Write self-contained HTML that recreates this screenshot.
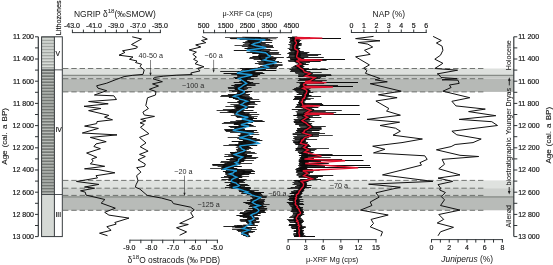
<!DOCTYPE html>
<html><head><meta charset="utf-8"><title>Figure</title>
<style>
html,body{margin:0;padding:0;background:#fff;}
svg{display:block;}
svg text{font-family:"Liberation Sans", Arial, Helvetica, sans-serif;fill:#161616;stroke:#161616;stroke-width:0.18px;}
</style></head><body>
<svg width="553" height="265" viewBox="0 0 553 265">
<rect width="553" height="265" fill="#fff"/>
<rect x="62.50" y="68.50" width="451.10" height="6.60" fill="#dde0dd"/>
<rect x="62.50" y="75.30" width="451.10" height="3.40" fill="#c6c9c6"/>
<rect x="62.50" y="78.70" width="451.10" height="13.20" fill="#b6b9b6"/>
<line x1="62.50" y1="75.30" x2="513.60" y2="75.30" stroke="#5a5e5a" stroke-width="0.8"/>
<rect x="62.50" y="180.40" width="451.10" height="7.80" fill="#dfe2df"/>
<rect x="62.50" y="188.20" width="451.10" height="8.50" fill="#cdd0cd"/>
<rect x="62.50" y="196.70" width="451.10" height="13.60" fill="#b8bbb8"/>
<line x1="62.50" y1="196.90" x2="513.60" y2="196.90" stroke="#6a6e6a" stroke-width="0.9"/>
<line x1="63.00" y1="68.50" x2="486.00" y2="68.50" stroke="#5c605c" stroke-width="0.85" stroke-dasharray="5.4 2.9"/>
<line x1="63.00" y1="78.70" x2="486.00" y2="78.70" stroke="#5c605c" stroke-width="0.85" stroke-dasharray="5.4 2.9"/>
<line x1="63.00" y1="91.90" x2="486.00" y2="91.90" stroke="#5c605c" stroke-width="0.85" stroke-dasharray="5.4 2.9"/>
<line x1="63.00" y1="180.40" x2="486.00" y2="180.40" stroke="#5c605c" stroke-width="0.85" stroke-dasharray="5.4 2.9"/>
<line x1="63.00" y1="188.20" x2="486.00" y2="188.20" stroke="#5c605c" stroke-width="0.85" stroke-dasharray="5.4 2.9"/>
<line x1="63.00" y1="195.40" x2="486.00" y2="195.40" stroke="#5c605c" stroke-width="0.85" stroke-dasharray="5.4 2.9"/>
<line x1="63.00" y1="210.30" x2="486.00" y2="210.30" stroke="#5c605c" stroke-width="0.85" stroke-dasharray="5.4 2.9"/>
<rect x="41.60" y="36.80" width="12.80" height="33.05" fill="#a3a7a3"/>
<rect x="41.60" y="69.85" width="12.80" height="124.65" fill="#747874"/>
<rect x="41.60" y="194.50" width="12.80" height="42.10" fill="#d5d9d5"/>
<rect x="54.40" y="36.80" width="7.90" height="199.80" fill="#ffffff"/>
<rect x="41.60" y="38.20" width="12.80" height="1.40" fill="#dde1dd"/>
<rect x="41.60" y="41.24" width="12.80" height="1.40" fill="#dde1dd"/>
<rect x="41.60" y="44.28" width="12.80" height="1.40" fill="#dde1dd"/>
<rect x="41.60" y="47.32" width="12.80" height="1.40" fill="#dde1dd"/>
<rect x="41.60" y="50.36" width="12.80" height="1.40" fill="#dde1dd"/>
<rect x="41.60" y="53.40" width="12.80" height="1.40" fill="#dde1dd"/>
<rect x="41.60" y="56.44" width="12.80" height="1.40" fill="#dde1dd"/>
<rect x="41.60" y="59.48" width="12.80" height="1.40" fill="#dde1dd"/>
<rect x="41.60" y="62.52" width="12.80" height="1.40" fill="#dde1dd"/>
<rect x="41.60" y="65.56" width="12.80" height="1.40" fill="#dde1dd"/>
<rect x="41.60" y="68.60" width="12.80" height="1.25" fill="#dde1dd"/>
<rect x="41.60" y="70.90" width="12.80" height="1.40" fill="#b7bbb7"/>
<rect x="41.60" y="73.94" width="12.80" height="1.40" fill="#b7bbb7"/>
<rect x="41.60" y="76.98" width="12.80" height="1.40" fill="#b7bbb7"/>
<rect x="41.60" y="80.02" width="12.80" height="1.40" fill="#b7bbb7"/>
<rect x="41.60" y="83.06" width="12.80" height="1.40" fill="#b7bbb7"/>
<rect x="41.60" y="86.10" width="12.80" height="1.40" fill="#b7bbb7"/>
<rect x="41.60" y="89.14" width="12.80" height="1.40" fill="#b7bbb7"/>
<rect x="41.60" y="92.18" width="12.80" height="1.40" fill="#b7bbb7"/>
<rect x="41.60" y="95.22" width="12.80" height="1.40" fill="#b7bbb7"/>
<rect x="41.60" y="98.26" width="12.80" height="1.40" fill="#b7bbb7"/>
<rect x="41.60" y="101.30" width="12.80" height="1.40" fill="#b7bbb7"/>
<rect x="41.60" y="104.34" width="12.80" height="1.40" fill="#b7bbb7"/>
<rect x="41.60" y="107.38" width="12.80" height="1.40" fill="#b7bbb7"/>
<rect x="41.60" y="110.42" width="12.80" height="1.40" fill="#b7bbb7"/>
<rect x="41.60" y="113.46" width="12.80" height="1.40" fill="#b7bbb7"/>
<rect x="41.60" y="116.50" width="12.80" height="1.40" fill="#b7bbb7"/>
<rect x="41.60" y="119.54" width="12.80" height="1.40" fill="#b7bbb7"/>
<rect x="41.60" y="122.58" width="12.80" height="1.40" fill="#b7bbb7"/>
<rect x="41.60" y="125.62" width="12.80" height="1.40" fill="#b7bbb7"/>
<rect x="41.60" y="128.66" width="12.80" height="1.40" fill="#b7bbb7"/>
<rect x="41.60" y="131.70" width="12.80" height="1.40" fill="#b7bbb7"/>
<rect x="41.60" y="134.74" width="12.80" height="1.40" fill="#b7bbb7"/>
<rect x="41.60" y="137.78" width="12.80" height="1.40" fill="#b7bbb7"/>
<rect x="41.60" y="140.82" width="12.80" height="1.40" fill="#b7bbb7"/>
<rect x="41.60" y="143.86" width="12.80" height="1.40" fill="#b7bbb7"/>
<rect x="41.60" y="146.90" width="12.80" height="1.40" fill="#b7bbb7"/>
<rect x="41.60" y="149.94" width="12.80" height="1.40" fill="#b7bbb7"/>
<rect x="41.60" y="152.98" width="12.80" height="1.40" fill="#b7bbb7"/>
<rect x="41.60" y="156.02" width="12.80" height="1.40" fill="#b7bbb7"/>
<rect x="41.60" y="159.06" width="12.80" height="1.40" fill="#b7bbb7"/>
<rect x="41.60" y="162.10" width="12.80" height="1.40" fill="#b7bbb7"/>
<rect x="41.60" y="165.14" width="12.80" height="1.40" fill="#b7bbb7"/>
<rect x="41.60" y="168.18" width="12.80" height="1.40" fill="#b7bbb7"/>
<rect x="41.60" y="171.22" width="12.80" height="1.40" fill="#b7bbb7"/>
<rect x="41.60" y="174.26" width="12.80" height="1.40" fill="#b7bbb7"/>
<rect x="41.60" y="177.30" width="12.80" height="1.40" fill="#b7bbb7"/>
<rect x="41.60" y="180.34" width="12.80" height="1.40" fill="#b7bbb7"/>
<rect x="41.60" y="183.38" width="12.80" height="1.40" fill="#b7bbb7"/>
<rect x="41.60" y="186.42" width="12.80" height="1.40" fill="#b7bbb7"/>
<rect x="41.60" y="189.46" width="12.80" height="1.40" fill="#b7bbb7"/>
<rect x="41.60" y="192.50" width="12.80" height="1.40" fill="#b7bbb7"/>
<rect x="41.6" y="36.80" width="20.70" height="199.80" fill="none" stroke="#2e3336" stroke-width="0.95"/>
<line x1="54.40" y1="36.80" x2="54.40" y2="236.60" stroke="#2e3336" stroke-width="0.95"/>
<line x1="41.60" y1="69.85" x2="62.30" y2="69.85" stroke="#2e3336" stroke-width="0.85"/>
<line x1="41.60" y1="194.50" x2="62.30" y2="194.50" stroke="#2e3336" stroke-width="0.85"/>
<line x1="38.30" y1="36.80" x2="38.30" y2="236.60" stroke="#2e3336" stroke-width="1.15"/>
<line x1="513.80" y1="36.80" x2="513.80" y2="236.60" stroke="#2e3336" stroke-width="1.15"/>
<line x1="35.00" y1="36.80" x2="38.30" y2="36.80" stroke="#2e3336" stroke-width="1.0"/>
<line x1="513.80" y1="36.80" x2="517.30" y2="36.80" stroke="#2e3336" stroke-width="1.0"/>
<text x="34.00" y="39.20" font-size="7.0" text-anchor="end" >11 200</text>
<text x="518.20" y="39.20" font-size="7.0" text-anchor="start" >11 200</text>
<line x1="35.00" y1="47.90" x2="38.30" y2="47.90" stroke="#2e3336" stroke-width="1.0"/>
<line x1="513.80" y1="47.90" x2="517.30" y2="47.90" stroke="#2e3336" stroke-width="1.0"/>
<line x1="35.00" y1="59.00" x2="38.30" y2="59.00" stroke="#2e3336" stroke-width="1.0"/>
<line x1="513.80" y1="59.00" x2="517.30" y2="59.00" stroke="#2e3336" stroke-width="1.0"/>
<text x="34.00" y="61.40" font-size="7.0" text-anchor="end" >11 400</text>
<text x="518.20" y="61.40" font-size="7.0" text-anchor="start" >11 400</text>
<line x1="35.00" y1="70.10" x2="38.30" y2="70.10" stroke="#2e3336" stroke-width="1.0"/>
<line x1="513.80" y1="70.10" x2="517.30" y2="70.10" stroke="#2e3336" stroke-width="1.0"/>
<line x1="35.00" y1="81.20" x2="38.30" y2="81.20" stroke="#2e3336" stroke-width="1.0"/>
<line x1="513.80" y1="81.20" x2="517.30" y2="81.20" stroke="#2e3336" stroke-width="1.0"/>
<text x="34.00" y="83.60" font-size="7.0" text-anchor="end" >11 600</text>
<text x="518.20" y="83.60" font-size="7.0" text-anchor="start" >11 600</text>
<line x1="35.00" y1="92.30" x2="38.30" y2="92.30" stroke="#2e3336" stroke-width="1.0"/>
<line x1="513.80" y1="92.30" x2="517.30" y2="92.30" stroke="#2e3336" stroke-width="1.0"/>
<line x1="35.00" y1="103.40" x2="38.30" y2="103.40" stroke="#2e3336" stroke-width="1.0"/>
<line x1="513.80" y1="103.40" x2="517.30" y2="103.40" stroke="#2e3336" stroke-width="1.0"/>
<text x="34.00" y="105.80" font-size="7.0" text-anchor="end" >11 800</text>
<text x="518.20" y="105.80" font-size="7.0" text-anchor="start" >11 800</text>
<line x1="35.00" y1="114.50" x2="38.30" y2="114.50" stroke="#2e3336" stroke-width="1.0"/>
<line x1="513.80" y1="114.50" x2="517.30" y2="114.50" stroke="#2e3336" stroke-width="1.0"/>
<line x1="35.00" y1="125.60" x2="38.30" y2="125.60" stroke="#2e3336" stroke-width="1.0"/>
<line x1="513.80" y1="125.60" x2="517.30" y2="125.60" stroke="#2e3336" stroke-width="1.0"/>
<text x="34.00" y="128.00" font-size="7.0" text-anchor="end" >12 000</text>
<text x="518.20" y="128.00" font-size="7.0" text-anchor="start" >12 000</text>
<line x1="35.00" y1="136.70" x2="38.30" y2="136.70" stroke="#2e3336" stroke-width="1.0"/>
<line x1="513.80" y1="136.70" x2="517.30" y2="136.70" stroke="#2e3336" stroke-width="1.0"/>
<line x1="35.00" y1="147.80" x2="38.30" y2="147.80" stroke="#2e3336" stroke-width="1.0"/>
<line x1="513.80" y1="147.80" x2="517.30" y2="147.80" stroke="#2e3336" stroke-width="1.0"/>
<text x="34.00" y="150.20" font-size="7.0" text-anchor="end" >12 200</text>
<text x="518.20" y="150.20" font-size="7.0" text-anchor="start" >12 200</text>
<line x1="35.00" y1="158.90" x2="38.30" y2="158.90" stroke="#2e3336" stroke-width="1.0"/>
<line x1="513.80" y1="158.90" x2="517.30" y2="158.90" stroke="#2e3336" stroke-width="1.0"/>
<line x1="35.00" y1="170.00" x2="38.30" y2="170.00" stroke="#2e3336" stroke-width="1.0"/>
<line x1="513.80" y1="170.00" x2="517.30" y2="170.00" stroke="#2e3336" stroke-width="1.0"/>
<text x="34.00" y="172.40" font-size="7.0" text-anchor="end" >12 400</text>
<text x="518.20" y="172.40" font-size="7.0" text-anchor="start" >12 400</text>
<line x1="35.00" y1="181.10" x2="38.30" y2="181.10" stroke="#2e3336" stroke-width="1.0"/>
<line x1="513.80" y1="181.10" x2="517.30" y2="181.10" stroke="#2e3336" stroke-width="1.0"/>
<line x1="35.00" y1="192.20" x2="38.30" y2="192.20" stroke="#2e3336" stroke-width="1.0"/>
<line x1="513.80" y1="192.20" x2="517.30" y2="192.20" stroke="#2e3336" stroke-width="1.0"/>
<text x="34.00" y="194.60" font-size="7.0" text-anchor="end" >12 600</text>
<text x="518.20" y="194.60" font-size="7.0" text-anchor="start" >12 600</text>
<line x1="35.00" y1="203.30" x2="38.30" y2="203.30" stroke="#2e3336" stroke-width="1.0"/>
<line x1="513.80" y1="203.30" x2="517.30" y2="203.30" stroke="#2e3336" stroke-width="1.0"/>
<line x1="35.00" y1="214.40" x2="38.30" y2="214.40" stroke="#2e3336" stroke-width="1.0"/>
<line x1="513.80" y1="214.40" x2="517.30" y2="214.40" stroke="#2e3336" stroke-width="1.0"/>
<text x="34.00" y="216.80" font-size="7.0" text-anchor="end" >12 800</text>
<text x="518.20" y="216.80" font-size="7.0" text-anchor="start" >12 800</text>
<line x1="35.00" y1="225.50" x2="38.30" y2="225.50" stroke="#2e3336" stroke-width="1.0"/>
<line x1="513.80" y1="225.50" x2="517.30" y2="225.50" stroke="#2e3336" stroke-width="1.0"/>
<line x1="35.00" y1="236.60" x2="38.30" y2="236.60" stroke="#2e3336" stroke-width="1.0"/>
<line x1="513.80" y1="236.60" x2="517.30" y2="236.60" stroke="#2e3336" stroke-width="1.0"/>
<text x="34.00" y="239.00" font-size="7.0" text-anchor="end" >13 000</text>
<text x="518.20" y="239.00" font-size="7.0" text-anchor="start" >13 000</text>
<line x1="72.00" y1="32.60" x2="160.80" y2="32.60" stroke="#2e3336" stroke-width="0.95"/>
<line x1="72.40" y1="29.60" x2="72.40" y2="33.05" stroke="#2e3336" stroke-width="1.0"/>
<line x1="83.40" y1="29.60" x2="83.40" y2="33.05" stroke="#2e3336" stroke-width="1.0"/>
<line x1="94.40" y1="29.60" x2="94.40" y2="33.05" stroke="#2e3336" stroke-width="1.0"/>
<line x1="105.40" y1="29.60" x2="105.40" y2="33.05" stroke="#2e3336" stroke-width="1.0"/>
<line x1="116.40" y1="29.60" x2="116.40" y2="33.05" stroke="#2e3336" stroke-width="1.0"/>
<line x1="127.40" y1="29.60" x2="127.40" y2="33.05" stroke="#2e3336" stroke-width="1.0"/>
<line x1="138.40" y1="29.60" x2="138.40" y2="33.05" stroke="#2e3336" stroke-width="1.0"/>
<line x1="149.40" y1="29.60" x2="149.40" y2="33.05" stroke="#2e3336" stroke-width="1.0"/>
<line x1="160.40" y1="29.60" x2="160.40" y2="33.05" stroke="#2e3336" stroke-width="1.0"/>
<text x="71.90" y="27.70" font-size="7.0" text-anchor="middle" >-43.0</text>
<text x="93.90" y="27.70" font-size="7.0" text-anchor="middle" >-41.0</text>
<text x="115.90" y="27.70" font-size="7.0" text-anchor="middle" >-39.0</text>
<text x="137.90" y="27.70" font-size="7.0" text-anchor="middle" >-37.0</text>
<text x="159.90" y="27.70" font-size="7.0" text-anchor="middle" >-35.0</text>
<line x1="203.20" y1="32.70" x2="291.70" y2="32.70" stroke="#2e3336" stroke-width="0.95"/>
<line x1="203.60" y1="29.70" x2="203.60" y2="33.15" stroke="#2e3336" stroke-width="1.0"/>
<line x1="214.56" y1="29.70" x2="214.56" y2="33.15" stroke="#2e3336" stroke-width="1.0"/>
<line x1="225.53" y1="29.70" x2="225.53" y2="33.15" stroke="#2e3336" stroke-width="1.0"/>
<line x1="236.49" y1="29.70" x2="236.49" y2="33.15" stroke="#2e3336" stroke-width="1.0"/>
<line x1="247.45" y1="29.70" x2="247.45" y2="33.15" stroke="#2e3336" stroke-width="1.0"/>
<line x1="258.41" y1="29.70" x2="258.41" y2="33.15" stroke="#2e3336" stroke-width="1.0"/>
<line x1="269.38" y1="29.70" x2="269.38" y2="33.15" stroke="#2e3336" stroke-width="1.0"/>
<line x1="280.34" y1="29.70" x2="280.34" y2="33.15" stroke="#2e3336" stroke-width="1.0"/>
<line x1="291.30" y1="29.70" x2="291.30" y2="33.15" stroke="#2e3336" stroke-width="1.0"/>
<text x="203.60" y="27.70" font-size="7.0" text-anchor="middle" >500</text>
<text x="225.53" y="27.70" font-size="7.0" text-anchor="middle" >1500</text>
<text x="247.45" y="27.70" font-size="7.0" text-anchor="middle" >2500</text>
<text x="269.38" y="27.70" font-size="7.0" text-anchor="middle" >3500</text>
<text x="291.30" y="27.70" font-size="7.0" text-anchor="middle" >4500</text>
<line x1="351.00" y1="32.50" x2="426.60" y2="32.50" stroke="#2e3336" stroke-width="0.95"/>
<line x1="351.40" y1="29.50" x2="351.40" y2="32.95" stroke="#2e3336" stroke-width="1.0"/>
<line x1="363.87" y1="29.50" x2="363.87" y2="32.95" stroke="#2e3336" stroke-width="1.0"/>
<line x1="376.33" y1="29.50" x2="376.33" y2="32.95" stroke="#2e3336" stroke-width="1.0"/>
<line x1="388.80" y1="29.50" x2="388.80" y2="32.95" stroke="#2e3336" stroke-width="1.0"/>
<line x1="401.27" y1="29.50" x2="401.27" y2="32.95" stroke="#2e3336" stroke-width="1.0"/>
<line x1="413.73" y1="29.50" x2="413.73" y2="32.95" stroke="#2e3336" stroke-width="1.0"/>
<line x1="426.20" y1="29.50" x2="426.20" y2="32.95" stroke="#2e3336" stroke-width="1.0"/>
<text x="351.40" y="27.70" font-size="7.0" text-anchor="middle" >0</text>
<text x="363.87" y="27.70" font-size="7.0" text-anchor="middle" >1</text>
<text x="376.33" y="27.70" font-size="7.0" text-anchor="middle" >2</text>
<text x="388.80" y="27.70" font-size="7.0" text-anchor="middle" >3</text>
<text x="401.27" y="27.70" font-size="7.0" text-anchor="middle" >4</text>
<text x="413.73" y="27.70" font-size="7.0" text-anchor="middle" >5</text>
<text x="426.20" y="27.70" font-size="7.0" text-anchor="middle" >6</text>
<line x1="129.50" y1="240.20" x2="217.80" y2="240.20" stroke="#2e3336" stroke-width="0.95"/>
<line x1="129.90" y1="239.75" x2="129.90" y2="243.20" stroke="#2e3336" stroke-width="1.0"/>
<line x1="140.84" y1="239.75" x2="140.84" y2="243.20" stroke="#2e3336" stroke-width="1.0"/>
<line x1="151.78" y1="239.75" x2="151.78" y2="243.20" stroke="#2e3336" stroke-width="1.0"/>
<line x1="162.71" y1="239.75" x2="162.71" y2="243.20" stroke="#2e3336" stroke-width="1.0"/>
<line x1="173.65" y1="239.75" x2="173.65" y2="243.20" stroke="#2e3336" stroke-width="1.0"/>
<line x1="184.59" y1="239.75" x2="184.59" y2="243.20" stroke="#2e3336" stroke-width="1.0"/>
<line x1="195.53" y1="239.75" x2="195.53" y2="243.20" stroke="#2e3336" stroke-width="1.0"/>
<line x1="206.46" y1="239.75" x2="206.46" y2="243.20" stroke="#2e3336" stroke-width="1.0"/>
<line x1="217.40" y1="239.75" x2="217.40" y2="243.20" stroke="#2e3336" stroke-width="1.0"/>
<text x="129.40" y="249.90" font-size="7.0" text-anchor="middle" >-9.0</text>
<text x="151.28" y="249.90" font-size="7.0" text-anchor="middle" >-8.0</text>
<text x="173.15" y="249.90" font-size="7.0" text-anchor="middle" >-7.0</text>
<text x="195.03" y="249.90" font-size="7.0" text-anchor="middle" >-6.0</text>
<text x="216.90" y="249.90" font-size="7.0" text-anchor="middle" >-5.0</text>
<line x1="287.70" y1="239.60" x2="376.40" y2="239.60" stroke="#2e3336" stroke-width="0.95"/>
<line x1="288.10" y1="239.15" x2="288.10" y2="242.60" stroke="#2e3336" stroke-width="1.0"/>
<line x1="305.68" y1="239.15" x2="305.68" y2="242.60" stroke="#2e3336" stroke-width="1.0"/>
<line x1="323.26" y1="239.15" x2="323.26" y2="242.60" stroke="#2e3336" stroke-width="1.0"/>
<line x1="340.84" y1="239.15" x2="340.84" y2="242.60" stroke="#2e3336" stroke-width="1.0"/>
<line x1="358.42" y1="239.15" x2="358.42" y2="242.60" stroke="#2e3336" stroke-width="1.0"/>
<line x1="376.00" y1="239.15" x2="376.00" y2="242.60" stroke="#2e3336" stroke-width="1.0"/>
<text x="288.10" y="249.60" font-size="7.0" text-anchor="middle" >0</text>
<text x="305.68" y="249.60" font-size="7.0" text-anchor="middle" >3</text>
<text x="323.26" y="249.60" font-size="7.0" text-anchor="middle" >6</text>
<text x="340.84" y="249.60" font-size="7.0" text-anchor="middle" >9</text>
<text x="358.42" y="249.60" font-size="7.0" text-anchor="middle" >12</text>
<text x="376.00" y="249.60" font-size="7.0" text-anchor="middle" >15</text>
<line x1="431.10" y1="239.60" x2="502.80" y2="239.60" stroke="#2e3336" stroke-width="0.95"/>
<line x1="431.50" y1="239.15" x2="431.50" y2="242.60" stroke="#2e3336" stroke-width="1.0"/>
<line x1="440.36" y1="239.15" x2="440.36" y2="242.60" stroke="#2e3336" stroke-width="1.0"/>
<line x1="449.23" y1="239.15" x2="449.23" y2="242.60" stroke="#2e3336" stroke-width="1.0"/>
<line x1="458.09" y1="239.15" x2="458.09" y2="242.60" stroke="#2e3336" stroke-width="1.0"/>
<line x1="466.95" y1="239.15" x2="466.95" y2="242.60" stroke="#2e3336" stroke-width="1.0"/>
<line x1="475.81" y1="239.15" x2="475.81" y2="242.60" stroke="#2e3336" stroke-width="1.0"/>
<line x1="484.67" y1="239.15" x2="484.67" y2="242.60" stroke="#2e3336" stroke-width="1.0"/>
<line x1="493.54" y1="239.15" x2="493.54" y2="242.60" stroke="#2e3336" stroke-width="1.0"/>
<line x1="502.40" y1="239.15" x2="502.40" y2="242.60" stroke="#2e3336" stroke-width="1.0"/>
<text x="431.50" y="249.60" font-size="7.0" text-anchor="middle" >0</text>
<text x="449.23" y="249.60" font-size="7.0" text-anchor="middle" >2</text>
<text x="466.95" y="249.60" font-size="7.0" text-anchor="middle" >4</text>
<text x="484.67" y="249.60" font-size="7.0" text-anchor="middle" >6</text>
<text x="502.40" y="249.60" font-size="7.0" text-anchor="middle" >8</text>
<path d="M242.4 37.2 L260.5 37.5 L245.3 37.8 L260.5 38.2 L246.9 38.5 L262.4 38.8 L246.5 39.1 L260.9 39.4 L248.0 39.7 L261.8 40.0 L248.0 40.3 L260.9 40.6 L246.8 40.9 L260.4 41.3 L248.1 41.5 L261.8 41.9 L248.8 42.2 L259.5 42.6 L250.2 42.9 L260.1 43.2 L250.4 43.5 L259.6 43.9 L249.5 44.2 L261.0 44.6 L248.6 44.9 L261.4 45.2 L248.5 45.6 L261.7 45.8 L249.3 46.1 L262.1 46.4 L251.9 46.7 L263.3 47.0 L254.8 47.3 L264.2 47.6 L254.5 48.0 L264.1 48.3 L252.8 48.6 L262.5 48.9 L248.7 49.2 L261.9 49.6 L247.3 49.9 L260.7 50.3 L246.5 50.6 L261.2 50.8 L250.0 51.1 L264.2 51.3 L251.4 51.6 L266.7 51.8 L254.1 52.2 L267.8 52.4 L257.3 52.7 L268.2 53.0 L258.7 53.3 L269.8 53.7 L259.0 54.0 L270.1 54.4 L258.7 54.8 L270.7 55.0 L258.9 55.3 L270.7 55.6 L258.0 55.8 L270.3 56.2 L259.5 56.4 L270.9 56.8 L258.8 57.1 L269.9 57.5 L259.3 57.9 L271.2 58.2 L258.9 58.6 L271.2 58.9 L260.1 59.3 L272.4 59.5 L260.7 59.8 L272.4 60.0 L261.4 60.2 L272.9 60.5 L261.4 60.9 L273.9 61.3 L263.9 61.6 L274.5 61.9 L265.0 62.2 L273.9 62.4 L263.5 62.8 L273.6 63.1 L264.5 63.5 L273.8 63.8 L265.9 64.1 L273.4 64.4 L265.3 64.7 L273.9 65.0 L266.0 65.3 L274.1 65.7 L266.3 66.0 L273.2 66.3 L267.3 66.5 L272.5 66.8 L263.3 67.1 L269.4 67.5 L257.8 67.8 L267.4 68.1 L254.4 68.4 L265.2 68.8 L250.5 69.1 L263.0 69.4 L245.2 69.7 L259.0 69.9 L244.3 70.2 L256.8 70.6 L240.9 70.9 L255.5 71.2 L238.3 71.6 L254.4 71.8 L238.0 72.1 L255.2 72.3 L237.6 72.5 L252.7 72.9 L237.0 73.2 L252.0 73.5 L234.6 73.8 L251.9 74.1 L237.4 74.4 L251.2 74.7 L239.0 75.1 L249.0 75.3 L243.0 75.6 L254.4 75.9 L243.9 76.2 L251.7 76.6 L242.8 76.8 L250.8 77.1 L241.7 77.3 L250.5 77.5 L241.1 77.9 L248.1 78.3 L240.4 78.6 L246.6 78.8 L241.2 79.1 L247.4 79.3 L241.3 79.7 L246.7 80.0 L241.3 80.3 L247.1 80.6 L241.1 81.0 L247.4 81.4 L241.0 81.6 L248.1 81.9 L241.6 82.1 L250.0 82.5 L242.1 82.8 L250.6 83.1 L242.3 83.4 L250.9 83.7 L240.5 84.1 L248.5 84.4 L239.1 84.7 L246.5 85.0 L237.7 85.4 L246.8 85.6 L236.6 86.0 L245.3 86.4 L236.7 86.7 L244.1 87.1 L235.3 87.3 L243.8 87.7 L235.1 88.0 L242.6 88.4 L234.4 88.7 L243.5 88.9 L236.3 89.2 L244.4 89.6 L237.1 90.0 L244.0 90.3 L237.9 90.6 L244.3 90.9 L238.0 91.3 L245.0 91.5 L238.4 91.9 L245.1 92.2 L239.6 92.5 L246.3 92.8 L239.8 93.1 L245.6 93.4 L237.4 93.7 L244.1 94.1 L235.7 94.3 L242.4 94.7 L232.7 95.0 L242.3 95.3 L229.8 95.6 L240.7 95.9 L228.6 96.2 L242.4 96.5 L233.4 96.7 L244.7 97.0 L236.9 97.3 L246.3 97.6 L239.8 97.8 L249.4 98.0 L241.5 98.4 L248.8 98.7 L240.9 99.0 L248.2 99.3 L240.5 99.6 L249.7 100.0 L238.7 100.2 L250.2 100.5 L239.1 100.7 L249.5 101.1 L239.7 101.4 L249.4 101.7 L237.9 101.9 L250.3 102.3 L238.9 102.6 L249.5 103.0 L238.7 103.3 L248.9 103.5 L238.9 103.9 L250.4 104.1 L240.8 104.4 L248.7 104.8 L239.4 105.0 L247.8 105.3 L235.7 105.7 L246.1 106.0 L235.1 106.3 L245.0 106.6 L234.0 107.0 L245.5 107.2 L235.6 107.5 L245.2 107.7 L236.7 107.9 L244.2 108.1 L236.4 108.4 L244.6 108.8 L236.0 109.1 L244.2 109.5 L231.7 109.8 L242.0 110.2 L229.4 110.5 L241.3 110.8 L227.5 111.1 L242.9 111.3 L228.8 111.5 L243.8 111.8 L229.5 112.2 L244.6 112.5 L232.5 112.7 L245.2 113.0 L234.0 113.3 L249.5 113.7 L238.8 114.1 L248.5 114.4 L239.6 114.7 L249.2 115.0 L239.4 115.2 L247.9 115.6 L239.5 116.0 L248.8 116.2 L241.5 116.4 L249.3 116.7 L242.6 116.9 L251.3 117.2 L243.6 117.4 L251.9 117.7 L244.9 118.0 L251.9 118.2 L243.6 118.5 L252.1 118.8 L242.5 119.1 L252.6 119.3 L242.1 119.6 L253.0 119.8 L242.5 120.2 L254.4 120.5 L241.4 120.7 L251.9 121.0 L240.1 121.2 L250.1 121.5 L237.5 121.9 L248.1 122.1 L236.9 122.4 L248.1 122.6 L233.9 123.0 L246.7 123.2 L234.3 123.5 L247.5 123.8 L236.1 124.2 L247.7 124.5 L238.3 124.9 L249.7 125.2 L239.2 125.5 L247.7 125.9 L238.4 126.2 L246.8 126.5 L238.0 126.7 L246.1 127.0 L235.5 127.2 L244.6 127.6 L234.9 127.8 L243.7 128.0 L234.3 128.3 L243.1 128.7 L234.7 128.9 L244.9 129.2 L233.8 129.5 L244.9 129.8 L233.5 130.0 L244.7 130.2 L233.5 130.6 L245.4 130.9 L236.6 131.1 L247.3 131.5 L238.5 131.8 L248.3 132.1 L240.3 132.5 L249.7 132.8 L240.5 133.0 L248.6 133.4 L240.8 133.8 L249.8 134.2 L240.8 134.5 L249.3 134.8 L239.9 135.1 L248.7 135.4 L239.4 135.6 L249.5 135.9 L240.1 136.2 L247.7 136.5 L239.5 136.8 L247.6 137.2 L238.9 137.4 L247.9 137.7 L239.1 137.9 L249.0 138.3 L240.1 138.6 L249.2 138.8 L240.7 139.1 L251.6 139.4 L243.1 139.8 L252.3 140.1 L243.1 140.4 L253.5 140.6 L242.8 140.8 L254.0 141.1 L242.5 141.4 L253.7 141.7 L243.8 142.0 L256.2 142.3 L243.5 142.7 L254.3 143.0 L241.0 143.3 L253.3 143.5 L239.2 143.8 L251.7 144.1 L238.3 144.4 L248.6 144.7 L234.9 144.9 L248.1 145.3 L236.1 145.7 L247.2 145.9 L237.3 146.2 L248.3 146.5 L239.0 146.8 L247.8 147.1 L240.7 147.4 L248.6 147.7 L241.0 148.0 L246.8 148.4 L240.7 148.7 L246.2 149.0 L241.3 149.3 L246.1 149.7 L242.2 149.9 L246.2 150.1 L240.6 150.4 L246.4 150.8 L239.4 151.1 L246.2 151.5 L237.0 151.7 L245.2 152.0 L235.1 152.3 L245.2 152.6 L234.1 152.9 L244.2 153.2 L230.7 153.5 L244.7 153.8 L231.3 154.1 L243.2 154.3 L232.2 154.6 L243.6 155.0 L231.3 155.2 L246.7 155.6 L232.0 155.8 L244.7 156.1 L232.7 156.4 L245.9 156.8 L234.6 157.1 L246.3 157.4 L235.2 157.7 L245.7 158.1 L236.4 158.4 L246.1 158.7 L237.1 159.0 L244.5 159.4 L236.2 159.7 L243.9 160.0 L235.7 160.3 L244.8 160.6 L235.8 160.9 L243.3 161.2 L233.5 161.5 L241.2 161.8 L230.4 162.2 L241.1 162.5 L227.1 162.7 L239.6 163.0 L225.0 163.3 L238.0 163.6 L223.9 164.0 L237.1 164.2 L222.8 164.6 L237.2 164.9 L223.9 165.2 L234.8 165.5 L222.8 165.7 L235.2 166.0 L222.7 166.4 L234.2 166.8 L221.6 167.0 L233.5 167.3 L221.5 167.5 L233.8 167.7 L222.5 168.1 L235.1 168.5 L224.3 168.7 L235.8 168.9 L225.4 169.2 L239.7 169.5 L229.3 169.8 L241.9 170.1 L230.7 170.4 L244.7 170.8 L233.6 171.1 L245.4 171.5 L234.8 171.7 L245.1 172.1 L234.7 172.4 L244.4 172.7 L234.1 173.1 L244.7 173.5 L234.5 173.7 L244.0 174.0 L233.9 174.3 L243.3 174.7 L233.6 174.9 L241.4 175.2 L233.8 175.4 L241.6 175.7 L232.9 176.0 L241.6 176.2 L231.3 176.5 L240.5 176.8 L229.8 177.1 L238.9 177.3 L228.5 177.5 L239.1 177.9 L228.4 178.1 L238.3 178.4 L229.3 178.7 L238.9 179.0 L229.6 179.3 L239.8 179.7 L231.2 180.1 L239.9 180.3 L232.4 180.6 L239.3 180.8 L231.5 181.1 L239.3 181.4 L232.0 181.6 L239.2 181.9 L230.6 182.2 L238.9 182.5 L230.7 182.9 L238.7 183.1 L230.3 183.3 L239.3 183.7 L231.0 184.0 L239.8 184.3 L232.0 184.6 L240.3 184.9 L232.2 185.1 L240.9 185.5 L233.2 185.7 L239.7 186.1 L230.5 186.5 L241.0 186.7 L229.1 187.0 L238.6 187.3 L225.0 187.6 L235.4 187.9 L231.3 188.2 L247.8 188.4 L240.0 188.8 L249.4 189.1 L239.7 189.3 L249.5 189.6 L240.2 189.9 L249.7 190.1 L242.3 190.4 L250.3 190.7 L242.4 190.9 L252.1 191.3 L244.7 191.5 L253.6 191.8 L246.3 192.1 L255.3 192.4 L246.8 192.6 L256.5 193.0 L249.9 193.4 L256.9 193.6 L250.9 193.9 L258.3 194.2 L252.3 194.5 L258.2 194.7 L253.3 195.1 L259.5 195.4 L253.8 195.7 L260.2 196.1 L255.1 196.4 L260.0 196.6 L255.1 196.8 L260.6 197.2 L255.6 197.5 L260.5 197.8 L255.0 198.1 L260.6 198.3 L254.5 198.6 L259.6 198.8 L253.3 199.1 L259.0 199.4 L253.1 199.7 L258.6 200.0 L250.7 200.3 L257.6 200.6 L250.6 201.0 L258.3 201.3 L250.7 201.7 L257.9 202.0 L249.9 202.3 L258.9 202.6 L249.8 202.8 L259.6 203.1 L251.0 203.4 L260.2 203.7 L251.8 204.0 L261.5 204.2 L253.7 204.4 L262.3 204.8 L254.8 205.1 L263.3 205.4 L254.6 205.7 L262.3 205.9 L255.0 206.2 L261.6 206.5 L253.9 206.9 L261.5 207.1 L252.6 207.4 L259.9 207.7 L252.3 208.0 L259.5 208.3 L252.4 208.7 L259.4 209.0 L252.8 209.4 L259.3 209.6 L253.0 209.9 L259.8 210.2 L252.7 210.5 L259.0 210.8 L252.1 211.1 L257.5 211.4 L249.9 211.8 L257.5 212.1 L248.6 212.4 L255.9 212.6 L247.3 212.8 L256.1 213.2 L246.2 213.4 L254.4 213.7 L246.1 213.9 L253.6 214.2 L243.9 214.5 L253.4 214.9 L242.9 215.1 L252.6 215.4 L244.7 215.8 L253.8 216.0 L245.3 216.3 L254.3 216.6 L246.0 216.8 L253.5 217.1 L248.3 217.5 L254.0 217.9 L248.3 218.2 L253.9 218.4 L247.0 218.7 L252.9 219.1 L246.8 219.3 L253.2 219.6 L245.3 220.0 L252.3 220.2 L245.4 220.5 L253.0 220.8 L246.4 221.2 L253.0 221.5 L246.6 221.7 L252.8 222.0 L247.1 222.3 L253.9 222.7 L248.2 222.9 L253.9 223.1 L248.6 223.5 L254.6 223.8 L249.7 224.1 L254.6 224.3 L249.3 224.5 L252.0 224.9 L243.3 225.2 L248.3 225.5 L237.1 225.8 L246.1 226.2 L233.7 226.4 L242.5 226.7 L232.1 226.9 L246.1 227.2 L235.2 227.4 L248.1 227.8 L242.2 228.0 L249.2 228.3 L242.1 228.6 L245.8 228.9 L232.1 229.3 L245.7 229.6 L237.6 230.0 L248.0 230.4 L242.1 230.6 L249.0 231.0 L244.1 231.2 L248.9 231.5 L243.5 231.8 L248.5 232.2 L243.5 232.4 L248.1 232.7 L243.3 233.0 L248.5 233.3 L243.4 233.6 L248.3 233.9 L244.0 234.3 L247.8 234.5 L244.6 234.8 L247.8 235.2 L244.8 235.4 L248.1 235.6 L245.5 236.0 L248.3 236.2 L246.2 236.5 L248.3 236.8" fill="none" stroke="#0a0a0a" stroke-width="0.7" stroke-linejoin="miter" />
<line x1="229.9" y1="38.5" x2="249.3" y2="38.5" stroke="#0a0a0a" stroke-width="0.90"/>
<line x1="239.7" y1="39.5" x2="250.3" y2="39.5" stroke="#0a0a0a" stroke-width="0.80"/>
<line x1="245.3" y1="41.5" x2="250.4" y2="41.5" stroke="#0a0a0a" stroke-width="0.79"/>
<line x1="242.7" y1="42.5" x2="252.0" y2="42.5" stroke="#0a0a0a" stroke-width="0.89"/>
<line x1="244.5" y1="43.5" x2="252.2" y2="43.5" stroke="#0a0a0a" stroke-width="0.75"/>
<line x1="242.9" y1="44.5" x2="251.3" y2="44.5" stroke="#0a0a0a" stroke-width="0.76"/>
<line x1="234.5" y1="45.5" x2="250.8" y2="45.5" stroke="#0a0a0a" stroke-width="0.76"/>
<line x1="241.8" y1="46.5" x2="253.4" y2="46.5" stroke="#0a0a0a" stroke-width="0.82"/>
<line x1="247.6" y1="47.5" x2="256.1" y2="47.5" stroke="#0a0a0a" stroke-width="0.82"/>
<line x1="244.5" y1="48.5" x2="254.5" y2="48.5" stroke="#0a0a0a" stroke-width="0.99"/>
<line x1="233.8" y1="50.5" x2="248.8" y2="50.5" stroke="#0a0a0a" stroke-width="0.94"/>
<line x1="246.5" y1="52.5" x2="258.4" y2="52.5" stroke="#0a0a0a" stroke-width="0.91"/>
<line x1="252.2" y1="53.5" x2="259.9" y2="53.5" stroke="#0a0a0a" stroke-width="0.95"/>
<line x1="252.4" y1="56.5" x2="260.7" y2="56.5" stroke="#0a0a0a" stroke-width="0.94"/>
<line x1="249.8" y1="57.5" x2="260.8" y2="57.5" stroke="#0a0a0a" stroke-width="0.91"/>
<line x1="249.2" y1="58.5" x2="260.9" y2="58.5" stroke="#0a0a0a" stroke-width="0.85"/>
<line x1="253.6" y1="59.5" x2="262.4" y2="59.5" stroke="#0a0a0a" stroke-width="0.83"/>
<line x1="257.0" y1="61.5" x2="265.4" y2="61.5" stroke="#0a0a0a" stroke-width="0.81"/>
<line x1="258.4" y1="62.5" x2="266.1" y2="62.5" stroke="#0a0a0a" stroke-width="0.78"/>
<line x1="254.9" y1="63.5" x2="266.5" y2="63.5" stroke="#0a0a0a" stroke-width="0.86"/>
<line x1="258.6" y1="64.5" x2="267.0" y2="64.5" stroke="#0a0a0a" stroke-width="0.83"/>
<line x1="264.1" y1="65.5" x2="267.5" y2="65.5" stroke="#0a0a0a" stroke-width="0.83"/>
<line x1="260.1" y1="66.5" x2="268.1" y2="66.5" stroke="#0a0a0a" stroke-width="0.89"/>
<line x1="240.1" y1="68.5" x2="255.6" y2="68.5" stroke="#0a0a0a" stroke-width="0.90"/>
<line x1="242.0" y1="69.5" x2="250.1" y2="69.5" stroke="#0a0a0a" stroke-width="0.90"/>
<line x1="220.2" y1="71.5" x2="241.0" y2="71.5" stroke="#0a0a0a" stroke-width="0.86"/>
<line x1="223.5" y1="73.5" x2="238.7" y2="73.5" stroke="#0a0a0a" stroke-width="0.97"/>
<line x1="231.3" y1="74.5" x2="240.0" y2="74.5" stroke="#0a0a0a" stroke-width="0.76"/>
<line x1="237.1" y1="75.5" x2="243.5" y2="75.5" stroke="#0a0a0a" stroke-width="0.93"/>
<line x1="237.2" y1="76.5" x2="245.1" y2="76.5" stroke="#0a0a0a" stroke-width="0.80"/>
<line x1="233.6" y1="77.5" x2="243.5" y2="77.5" stroke="#0a0a0a" stroke-width="0.91"/>
<line x1="234.9" y1="78.5" x2="241.9" y2="78.5" stroke="#0a0a0a" stroke-width="0.99"/>
<line x1="239.3" y1="79.5" x2="242.1" y2="79.5" stroke="#0a0a0a" stroke-width="0.95"/>
<line x1="239.3" y1="81.5" x2="242.8" y2="81.5" stroke="#0a0a0a" stroke-width="0.80"/>
<line x1="233.7" y1="82.5" x2="243.4" y2="82.5" stroke="#0a0a0a" stroke-width="0.91"/>
<line x1="234.6" y1="84.5" x2="241.3" y2="84.5" stroke="#0a0a0a" stroke-width="0.94"/>
<line x1="231.3" y1="85.5" x2="238.9" y2="85.5" stroke="#0a0a0a" stroke-width="0.92"/>
<line x1="233.8" y1="86.5" x2="237.6" y2="86.5" stroke="#0a0a0a" stroke-width="0.85"/>
<line x1="227.8" y1="87.5" x2="236.9" y2="87.5" stroke="#0a0a0a" stroke-width="0.83"/>
<line x1="228.1" y1="88.5" x2="236.5" y2="88.5" stroke="#0a0a0a" stroke-width="0.81"/>
<line x1="234.8" y1="89.5" x2="237.5" y2="89.5" stroke="#0a0a0a" stroke-width="0.98"/>
<line x1="229.0" y1="90.5" x2="238.6" y2="90.5" stroke="#0a0a0a" stroke-width="0.76"/>
<line x1="231.9" y1="91.5" x2="239.6" y2="91.5" stroke="#0a0a0a" stroke-width="0.83"/>
<line x1="237.0" y1="92.5" x2="240.7" y2="92.5" stroke="#0a0a0a" stroke-width="0.79"/>
<line x1="236.8" y1="93.5" x2="240.2" y2="93.5" stroke="#0a0a0a" stroke-width="0.95"/>
<line x1="227.9" y1="94.5" x2="236.4" y2="94.5" stroke="#0a0a0a" stroke-width="0.90"/>
<line x1="221.2" y1="95.5" x2="232.6" y2="95.5" stroke="#0a0a0a" stroke-width="0.90"/>
<line x1="220.3" y1="96.5" x2="232.8" y2="96.5" stroke="#0a0a0a" stroke-width="0.81"/>
<line x1="228.9" y1="97.5" x2="239.2" y2="97.5" stroke="#0a0a0a" stroke-width="0.94"/>
<line x1="232.9" y1="98.5" x2="242.4" y2="98.5" stroke="#0a0a0a" stroke-width="0.99"/>
<line x1="235.3" y1="99.5" x2="241.7" y2="99.5" stroke="#0a0a0a" stroke-width="0.88"/>
<line x1="237.2" y1="101.5" x2="240.8" y2="101.5" stroke="#0a0a0a" stroke-width="0.87"/>
<line x1="227.4" y1="102.5" x2="240.7" y2="102.5" stroke="#0a0a0a" stroke-width="0.84"/>
<line x1="230.4" y1="104.5" x2="241.9" y2="104.5" stroke="#0a0a0a" stroke-width="0.77"/>
<line x1="233.7" y1="105.5" x2="239.2" y2="105.5" stroke="#0a0a0a" stroke-width="0.77"/>
<line x1="225.4" y1="106.5" x2="236.3" y2="106.5" stroke="#0a0a0a" stroke-width="0.80"/>
<line x1="234.6" y1="108.5" x2="238.6" y2="108.5" stroke="#0a0a0a" stroke-width="0.79"/>
<line x1="222.9" y1="109.5" x2="235.6" y2="109.5" stroke="#0a0a0a" stroke-width="0.79"/>
<line x1="216.6" y1="110.5" x2="231.9" y2="110.5" stroke="#0a0a0a" stroke-width="0.81"/>
<line x1="219.8" y1="112.5" x2="233.3" y2="112.5" stroke="#0a0a0a" stroke-width="0.84"/>
<line x1="234.4" y1="114.5" x2="241.3" y2="114.5" stroke="#0a0a0a" stroke-width="0.98"/>
<line x1="230.8" y1="115.5" x2="241.3" y2="115.5" stroke="#0a0a0a" stroke-width="0.77"/>
<line x1="235.7" y1="116.5" x2="242.8" y2="116.5" stroke="#0a0a0a" stroke-width="0.97"/>
<line x1="236.8" y1="117.5" x2="244.7" y2="117.5" stroke="#0a0a0a" stroke-width="0.85"/>
<line x1="235.7" y1="120.5" x2="243.6" y2="120.5" stroke="#0a0a0a" stroke-width="0.81"/>
<line x1="230.2" y1="121.5" x2="240.8" y2="121.5" stroke="#0a0a0a" stroke-width="0.81"/>
<line x1="223.7" y1="122.5" x2="237.9" y2="122.5" stroke="#0a0a0a" stroke-width="0.91"/>
<line x1="221.9" y1="123.5" x2="237.4" y2="123.5" stroke="#0a0a0a" stroke-width="0.80"/>
<line x1="233.8" y1="124.5" x2="239.7" y2="124.5" stroke="#0a0a0a" stroke-width="0.97"/>
<line x1="228.6" y1="126.5" x2="239.4" y2="126.5" stroke="#0a0a0a" stroke-width="0.96"/>
<line x1="230.2" y1="127.5" x2="236.9" y2="127.5" stroke="#0a0a0a" stroke-width="0.87"/>
<line x1="224.2" y1="129.5" x2="235.8" y2="129.5" stroke="#0a0a0a" stroke-width="0.90"/>
<line x1="224.8" y1="130.5" x2="236.1" y2="130.5" stroke="#0a0a0a" stroke-width="0.97"/>
<line x1="225.8" y1="131.5" x2="238.8" y2="131.5" stroke="#0a0a0a" stroke-width="0.84"/>
<line x1="230.1" y1="132.5" x2="241.5" y2="132.5" stroke="#0a0a0a" stroke-width="0.80"/>
<line x1="237.8" y1="135.5" x2="241.2" y2="135.5" stroke="#0a0a0a" stroke-width="0.78"/>
<line x1="227.7" y1="137.5" x2="240.4" y2="137.5" stroke="#0a0a0a" stroke-width="0.79"/>
<line x1="237.2" y1="138.5" x2="241.8" y2="138.5" stroke="#0a0a0a" stroke-width="0.79"/>
<line x1="239.1" y1="139.5" x2="243.5" y2="139.5" stroke="#0a0a0a" stroke-width="0.83"/>
<line x1="231.7" y1="141.5" x2="245.5" y2="141.5" stroke="#0a0a0a" stroke-width="0.99"/>
<line x1="238.4" y1="142.5" x2="246.1" y2="142.5" stroke="#0a0a0a" stroke-width="0.95"/>
<line x1="238.2" y1="143.5" x2="242.9" y2="143.5" stroke="#0a0a0a" stroke-width="0.88"/>
<line x1="228.8" y1="144.5" x2="239.3" y2="144.5" stroke="#0a0a0a" stroke-width="0.78"/>
<line x1="223.3" y1="145.5" x2="238.5" y2="145.5" stroke="#0a0a0a" stroke-width="0.83"/>
<line x1="235.8" y1="147.5" x2="242.6" y2="147.5" stroke="#0a0a0a" stroke-width="0.78"/>
<line x1="237.8" y1="148.5" x2="241.7" y2="148.5" stroke="#0a0a0a" stroke-width="0.92"/>
<line x1="236.1" y1="149.5" x2="242.3" y2="149.5" stroke="#0a0a0a" stroke-width="0.88"/>
<line x1="236.7" y1="150.5" x2="241.6" y2="150.5" stroke="#0a0a0a" stroke-width="0.87"/>
<line x1="230.0" y1="152.5" x2="236.6" y2="152.5" stroke="#0a0a0a" stroke-width="0.99"/>
<line x1="224.6" y1="154.5" x2="233.7" y2="154.5" stroke="#0a0a0a" stroke-width="0.79"/>
<line x1="228.2" y1="155.5" x2="234.2" y2="155.5" stroke="#0a0a0a" stroke-width="0.76"/>
<line x1="224.2" y1="156.5" x2="235.2" y2="156.5" stroke="#0a0a0a" stroke-width="0.89"/>
<line x1="233.3" y1="157.5" x2="237.0" y2="157.5" stroke="#0a0a0a" stroke-width="0.92"/>
<line x1="230.3" y1="158.5" x2="238.9" y2="158.5" stroke="#0a0a0a" stroke-width="0.89"/>
<line x1="226.2" y1="159.5" x2="238.1" y2="159.5" stroke="#0a0a0a" stroke-width="0.97"/>
<line x1="229.5" y1="160.5" x2="237.0" y2="160.5" stroke="#0a0a0a" stroke-width="0.83"/>
<line x1="220.9" y1="161.5" x2="234.5" y2="161.5" stroke="#0a0a0a" stroke-width="0.85"/>
<line x1="220.3" y1="162.5" x2="230.4" y2="162.5" stroke="#0a0a0a" stroke-width="0.79"/>
<line x1="212.2" y1="164.5" x2="225.8" y2="164.5" stroke="#0a0a0a" stroke-width="0.98"/>
<line x1="212.5" y1="165.5" x2="225.2" y2="165.5" stroke="#0a0a0a" stroke-width="0.84"/>
<line x1="217.6" y1="166.5" x2="224.8" y2="166.5" stroke="#0a0a0a" stroke-width="0.78"/>
<line x1="210.1" y1="168.5" x2="225.0" y2="168.5" stroke="#0a0a0a" stroke-width="0.76"/>
<line x1="221.1" y1="169.5" x2="229.7" y2="169.5" stroke="#0a0a0a" stroke-width="0.91"/>
<line x1="225.9" y1="170.5" x2="234.3" y2="170.5" stroke="#0a0a0a" stroke-width="0.99"/>
<line x1="222.9" y1="171.5" x2="235.8" y2="171.5" stroke="#0a0a0a" stroke-width="0.96"/>
<line x1="225.1" y1="172.5" x2="236.0" y2="172.5" stroke="#0a0a0a" stroke-width="1.00"/>
<line x1="225.4" y1="173.5" x2="236.0" y2="173.5" stroke="#0a0a0a" stroke-width="0.94"/>
<line x1="225.3" y1="174.5" x2="235.6" y2="174.5" stroke="#0a0a0a" stroke-width="0.85"/>
<line x1="226.7" y1="175.5" x2="235.2" y2="175.5" stroke="#0a0a0a" stroke-width="0.92"/>
<line x1="224.0" y1="176.5" x2="233.3" y2="176.5" stroke="#0a0a0a" stroke-width="0.89"/>
<line x1="220.9" y1="177.5" x2="231.0" y2="177.5" stroke="#0a0a0a" stroke-width="0.82"/>
<line x1="221.5" y1="179.5" x2="231.8" y2="179.5" stroke="#0a0a0a" stroke-width="0.88"/>
<line x1="228.2" y1="180.5" x2="233.4" y2="180.5" stroke="#0a0a0a" stroke-width="0.79"/>
<line x1="224.6" y1="182.5" x2="232.3" y2="182.5" stroke="#0a0a0a" stroke-width="0.88"/>
<line x1="229.0" y1="184.5" x2="233.5" y2="184.5" stroke="#0a0a0a" stroke-width="0.96"/>
<line x1="226.4" y1="185.5" x2="234.5" y2="185.5" stroke="#0a0a0a" stroke-width="0.96"/>
<line x1="233.8" y1="188.5" x2="240.8" y2="188.5" stroke="#0a0a0a" stroke-width="0.96"/>
<line x1="238.6" y1="190.5" x2="243.4" y2="190.5" stroke="#0a0a0a" stroke-width="0.81"/>
<line x1="239.1" y1="191.5" x2="245.7" y2="191.5" stroke="#0a0a0a" stroke-width="0.95"/>
<line x1="241.5" y1="192.5" x2="248.5" y2="192.5" stroke="#0a0a0a" stroke-width="0.77"/>
<line x1="241.2" y1="193.5" x2="251.2" y2="193.5" stroke="#0a0a0a" stroke-width="0.92"/>
<line x1="246.9" y1="194.5" x2="253.0" y2="194.5" stroke="#0a0a0a" stroke-width="0.95"/>
<line x1="251.6" y1="195.5" x2="254.9" y2="195.5" stroke="#0a0a0a" stroke-width="0.92"/>
<line x1="250.3" y1="196.5" x2="255.7" y2="196.5" stroke="#0a0a0a" stroke-width="0.81"/>
<line x1="251.9" y1="197.5" x2="256.1" y2="197.5" stroke="#0a0a0a" stroke-width="0.85"/>
<line x1="252.5" y1="198.5" x2="255.9" y2="198.5" stroke="#0a0a0a" stroke-width="0.89"/>
<line x1="250.4" y1="199.5" x2="254.0" y2="199.5" stroke="#0a0a0a" stroke-width="0.93"/>
<line x1="247.0" y1="200.5" x2="252.1" y2="200.5" stroke="#0a0a0a" stroke-width="0.81"/>
<line x1="243.3" y1="202.5" x2="252.0" y2="202.5" stroke="#0a0a0a" stroke-width="0.96"/>
<line x1="245.5" y1="203.5" x2="252.8" y2="203.5" stroke="#0a0a0a" stroke-width="0.95"/>
<line x1="247.9" y1="204.5" x2="254.5" y2="204.5" stroke="#0a0a0a" stroke-width="0.76"/>
<line x1="249.8" y1="205.5" x2="256.3" y2="205.5" stroke="#0a0a0a" stroke-width="0.93"/>
<line x1="248.9" y1="206.5" x2="255.5" y2="206.5" stroke="#0a0a0a" stroke-width="0.91"/>
<line x1="248.2" y1="208.5" x2="254.2" y2="208.5" stroke="#0a0a0a" stroke-width="0.89"/>
<line x1="245.6" y1="210.5" x2="254.3" y2="210.5" stroke="#0a0a0a" stroke-width="0.93"/>
<line x1="244.0" y1="211.5" x2="252.0" y2="211.5" stroke="#0a0a0a" stroke-width="0.83"/>
<line x1="240.0" y1="212.5" x2="249.7" y2="212.5" stroke="#0a0a0a" stroke-width="0.84"/>
<line x1="239.5" y1="213.5" x2="247.8" y2="213.5" stroke="#0a0a0a" stroke-width="0.98"/>
<line x1="242.5" y1="214.5" x2="246.1" y2="214.5" stroke="#0a0a0a" stroke-width="0.90"/>
<line x1="236.4" y1="215.5" x2="245.1" y2="215.5" stroke="#0a0a0a" stroke-width="0.96"/>
<line x1="239.6" y1="216.5" x2="247.1" y2="216.5" stroke="#0a0a0a" stroke-width="0.97"/>
<line x1="242.8" y1="217.5" x2="249.0" y2="217.5" stroke="#0a0a0a" stroke-width="0.88"/>
<line x1="239.8" y1="219.5" x2="247.7" y2="219.5" stroke="#0a0a0a" stroke-width="0.85"/>
<line x1="239.7" y1="220.5" x2="247.2" y2="220.5" stroke="#0a0a0a" stroke-width="0.89"/>
<line x1="240.5" y1="221.5" x2="248.0" y2="221.5" stroke="#0a0a0a" stroke-width="0.78"/>
<line x1="246.1" y1="222.5" x2="248.8" y2="222.5" stroke="#0a0a0a" stroke-width="0.95"/>
<line x1="247.3" y1="223.5" x2="249.9" y2="223.5" stroke="#0a0a0a" stroke-width="0.94"/>
<line x1="248.3" y1="224.5" x2="250.4" y2="224.5" stroke="#0a0a0a" stroke-width="0.92"/>
<line x1="234.2" y1="225.5" x2="242.0" y2="225.5" stroke="#0a0a0a" stroke-width="0.76"/>
<line x1="223.4" y1="226.5" x2="234.0" y2="226.5" stroke="#0a0a0a" stroke-width="0.90"/>
<line x1="236.7" y1="230.5" x2="242.1" y2="230.5" stroke="#0a0a0a" stroke-width="0.88"/>
<line x1="238.0" y1="231.5" x2="244.9" y2="231.5" stroke="#0a0a0a" stroke-width="0.82"/>
<line x1="240.9" y1="232.5" x2="244.6" y2="232.5" stroke="#0a0a0a" stroke-width="0.81"/>
<line x1="241.2" y1="234.5" x2="245.0" y2="234.5" stroke="#0a0a0a" stroke-width="0.86"/>
<line x1="243.1" y1="235.5" x2="245.6" y2="235.5" stroke="#0a0a0a" stroke-width="0.97"/>
<line x1="258.9" y1="38.5" x2="268.1" y2="38.5" stroke="#0a0a0a" stroke-width="0.76"/>
<line x1="259.1" y1="39.5" x2="270.3" y2="39.5" stroke="#0a0a0a" stroke-width="0.87"/>
<line x1="258.8" y1="40.5" x2="272.6" y2="40.5" stroke="#0a0a0a" stroke-width="0.84"/>
<line x1="258.5" y1="42.5" x2="272.1" y2="42.5" stroke="#0a0a0a" stroke-width="0.89"/>
<line x1="258.4" y1="43.5" x2="265.7" y2="43.5" stroke="#0a0a0a" stroke-width="0.88"/>
<line x1="258.3" y1="44.5" x2="269.4" y2="44.5" stroke="#0a0a0a" stroke-width="0.83"/>
<line x1="258.4" y1="45.5" x2="273.0" y2="45.5" stroke="#0a0a0a" stroke-width="0.82"/>
<line x1="260.1" y1="46.5" x2="273.0" y2="46.5" stroke="#0a0a0a" stroke-width="0.90"/>
<line x1="261.8" y1="47.5" x2="273.9" y2="47.5" stroke="#0a0a0a" stroke-width="0.86"/>
<line x1="259.2" y1="49.5" x2="270.7" y2="49.5" stroke="#0a0a0a" stroke-width="0.91"/>
<line x1="258.4" y1="50.5" x2="277.7" y2="50.5" stroke="#0a0a0a" stroke-width="0.77"/>
<line x1="262.0" y1="51.5" x2="269.7" y2="51.5" stroke="#0a0a0a" stroke-width="0.98"/>
<line x1="265.5" y1="52.5" x2="279.2" y2="52.5" stroke="#0a0a0a" stroke-width="0.87"/>
<line x1="266.7" y1="53.5" x2="278.8" y2="53.5" stroke="#0a0a0a" stroke-width="0.82"/>
<line x1="267.3" y1="54.5" x2="281.1" y2="54.5" stroke="#0a0a0a" stroke-width="0.79"/>
<line x1="267.9" y1="56.5" x2="273.5" y2="56.5" stroke="#0a0a0a" stroke-width="0.77"/>
<line x1="268.1" y1="57.5" x2="283.9" y2="57.5" stroke="#0a0a0a" stroke-width="0.85"/>
<line x1="268.4" y1="58.5" x2="276.5" y2="58.5" stroke="#0a0a0a" stroke-width="0.98"/>
<line x1="269.6" y1="59.5" x2="276.0" y2="59.5" stroke="#0a0a0a" stroke-width="0.76"/>
<line x1="270.9" y1="60.5" x2="275.3" y2="60.5" stroke="#0a0a0a" stroke-width="0.96"/>
<line x1="272.1" y1="61.5" x2="279.0" y2="61.5" stroke="#0a0a0a" stroke-width="0.90"/>
<line x1="272.3" y1="62.5" x2="282.1" y2="62.5" stroke="#0a0a0a" stroke-width="0.79"/>
<line x1="272.2" y1="64.5" x2="282.6" y2="64.5" stroke="#0a0a0a" stroke-width="0.79"/>
<line x1="272.3" y1="65.5" x2="282.6" y2="65.5" stroke="#0a0a0a" stroke-width="0.85"/>
<line x1="272.4" y1="66.5" x2="278.1" y2="66.5" stroke="#0a0a0a" stroke-width="0.91"/>
<line x1="267.9" y1="67.5" x2="277.0" y2="67.5" stroke="#0a0a0a" stroke-width="0.77"/>
<line x1="263.0" y1="68.5" x2="276.6" y2="68.5" stroke="#0a0a0a" stroke-width="0.86"/>
<line x1="258.9" y1="69.5" x2="265.9" y2="69.5" stroke="#0a0a0a" stroke-width="0.96"/>
<line x1="255.5" y1="70.5" x2="276.4" y2="70.5" stroke="#0a0a0a" stroke-width="1.00"/>
<line x1="250.7" y1="72.5" x2="262.8" y2="72.5" stroke="#0a0a0a" stroke-width="0.84"/>
<line x1="249.2" y1="73.5" x2="264.5" y2="73.5" stroke="#0a0a0a" stroke-width="0.98"/>
<line x1="248.2" y1="74.5" x2="260.1" y2="74.5" stroke="#0a0a0a" stroke-width="0.97"/>
<line x1="249.2" y1="75.5" x2="258.1" y2="75.5" stroke="#0a0a0a" stroke-width="0.77"/>
<line x1="251.0" y1="76.5" x2="257.6" y2="76.5" stroke="#0a0a0a" stroke-width="0.97"/>
<line x1="245.7" y1="78.5" x2="253.8" y2="78.5" stroke="#0a0a0a" stroke-width="0.76"/>
<line x1="245.8" y1="79.5" x2="253.9" y2="79.5" stroke="#0a0a0a" stroke-width="0.84"/>
<line x1="246.7" y1="81.5" x2="249.5" y2="81.5" stroke="#0a0a0a" stroke-width="0.83"/>
<line x1="248.1" y1="82.5" x2="253.2" y2="82.5" stroke="#0a0a0a" stroke-width="0.94"/>
<line x1="249.1" y1="83.5" x2="259.5" y2="83.5" stroke="#0a0a0a" stroke-width="0.82"/>
<line x1="246.8" y1="84.5" x2="255.6" y2="84.5" stroke="#0a0a0a" stroke-width="0.77"/>
<line x1="244.6" y1="85.5" x2="255.5" y2="85.5" stroke="#0a0a0a" stroke-width="0.90"/>
<line x1="243.2" y1="86.5" x2="246.7" y2="86.5" stroke="#0a0a0a" stroke-width="0.88"/>
<line x1="242.2" y1="87.5" x2="251.5" y2="87.5" stroke="#0a0a0a" stroke-width="0.78"/>
<line x1="241.6" y1="88.5" x2="248.1" y2="88.5" stroke="#0a0a0a" stroke-width="0.84"/>
<line x1="242.3" y1="89.5" x2="246.7" y2="89.5" stroke="#0a0a0a" stroke-width="0.79"/>
<line x1="243.8" y1="91.5" x2="252.3" y2="91.5" stroke="#0a0a0a" stroke-width="0.97"/>
<line x1="244.7" y1="92.5" x2="248.4" y2="92.5" stroke="#0a0a0a" stroke-width="0.77"/>
<line x1="241.9" y1="94.5" x2="250.0" y2="94.5" stroke="#0a0a0a" stroke-width="0.88"/>
<line x1="239.3" y1="95.5" x2="248.8" y2="95.5" stroke="#0a0a0a" stroke-width="0.79"/>
<line x1="239.6" y1="96.5" x2="249.8" y2="96.5" stroke="#0a0a0a" stroke-width="0.84"/>
<line x1="244.6" y1="97.5" x2="251.9" y2="97.5" stroke="#0a0a0a" stroke-width="0.80"/>
<line x1="247.4" y1="98.5" x2="252.6" y2="98.5" stroke="#0a0a0a" stroke-width="0.97"/>
<line x1="247.4" y1="99.5" x2="259.2" y2="99.5" stroke="#0a0a0a" stroke-width="0.75"/>
<line x1="247.6" y1="101.5" x2="260.5" y2="101.5" stroke="#0a0a0a" stroke-width="0.89"/>
<line x1="247.7" y1="102.5" x2="254.9" y2="102.5" stroke="#0a0a0a" stroke-width="0.94"/>
<line x1="247.9" y1="103.5" x2="255.3" y2="103.5" stroke="#0a0a0a" stroke-width="0.76"/>
<line x1="248.0" y1="104.5" x2="257.4" y2="104.5" stroke="#0a0a0a" stroke-width="0.82"/>
<line x1="243.3" y1="106.5" x2="254.5" y2="106.5" stroke="#0a0a0a" stroke-width="0.81"/>
<line x1="243.2" y1="107.5" x2="254.2" y2="107.5" stroke="#0a0a0a" stroke-width="0.93"/>
<line x1="243.1" y1="108.5" x2="247.9" y2="108.5" stroke="#0a0a0a" stroke-width="0.90"/>
<line x1="240.1" y1="110.5" x2="253.5" y2="110.5" stroke="#0a0a0a" stroke-width="0.92"/>
<line x1="241.4" y1="112.5" x2="257.0" y2="112.5" stroke="#0a0a0a" stroke-width="0.87"/>
<line x1="247.1" y1="114.5" x2="259.3" y2="114.5" stroke="#0a0a0a" stroke-width="0.85"/>
<line x1="247.1" y1="115.5" x2="251.4" y2="115.5" stroke="#0a0a0a" stroke-width="0.81"/>
<line x1="248.2" y1="116.5" x2="257.7" y2="116.5" stroke="#0a0a0a" stroke-width="0.79"/>
<line x1="249.7" y1="117.5" x2="254.0" y2="117.5" stroke="#0a0a0a" stroke-width="0.80"/>
<line x1="250.7" y1="118.5" x2="257.0" y2="118.5" stroke="#0a0a0a" stroke-width="0.99"/>
<line x1="251.4" y1="120.5" x2="262.6" y2="120.5" stroke="#0a0a0a" stroke-width="0.87"/>
<line x1="248.6" y1="121.5" x2="264.7" y2="121.5" stroke="#0a0a0a" stroke-width="0.94"/>
<line x1="245.5" y1="122.5" x2="252.9" y2="122.5" stroke="#0a0a0a" stroke-width="0.91"/>
<line x1="246.4" y1="124.5" x2="251.4" y2="124.5" stroke="#0a0a0a" stroke-width="0.93"/>
<line x1="248.0" y1="125.5" x2="253.5" y2="125.5" stroke="#0a0a0a" stroke-width="0.99"/>
<line x1="245.2" y1="126.5" x2="255.9" y2="126.5" stroke="#0a0a0a" stroke-width="0.78"/>
<line x1="243.2" y1="130.5" x2="257.1" y2="130.5" stroke="#0a0a0a" stroke-width="0.95"/>
<line x1="245.1" y1="131.5" x2="253.9" y2="131.5" stroke="#0a0a0a" stroke-width="0.96"/>
<line x1="247.1" y1="132.5" x2="258.5" y2="132.5" stroke="#0a0a0a" stroke-width="0.82"/>
<line x1="247.3" y1="134.5" x2="259.3" y2="134.5" stroke="#0a0a0a" stroke-width="0.78"/>
<line x1="246.7" y1="136.5" x2="253.1" y2="136.5" stroke="#0a0a0a" stroke-width="0.96"/>
<line x1="246.5" y1="137.5" x2="252.4" y2="137.5" stroke="#0a0a0a" stroke-width="0.86"/>
<line x1="247.7" y1="138.5" x2="256.6" y2="138.5" stroke="#0a0a0a" stroke-width="0.98"/>
<line x1="249.3" y1="139.5" x2="259.9" y2="139.5" stroke="#0a0a0a" stroke-width="0.85"/>
<line x1="250.8" y1="140.5" x2="262.4" y2="140.5" stroke="#0a0a0a" stroke-width="0.92"/>
<line x1="250.5" y1="143.5" x2="256.1" y2="143.5" stroke="#0a0a0a" stroke-width="0.91"/>
<line x1="245.6" y1="145.5" x2="257.2" y2="145.5" stroke="#0a0a0a" stroke-width="0.96"/>
<line x1="246.5" y1="146.5" x2="249.6" y2="146.5" stroke="#0a0a0a" stroke-width="0.87"/>
<line x1="247.3" y1="147.5" x2="251.1" y2="147.5" stroke="#0a0a0a" stroke-width="0.95"/>
<line x1="245.8" y1="148.5" x2="252.7" y2="148.5" stroke="#0a0a0a" stroke-width="0.86"/>
<line x1="245.5" y1="149.5" x2="248.9" y2="149.5" stroke="#0a0a0a" stroke-width="0.84"/>
<line x1="244.7" y1="151.5" x2="250.8" y2="151.5" stroke="#0a0a0a" stroke-width="0.77"/>
<line x1="243.2" y1="152.5" x2="254.9" y2="152.5" stroke="#0a0a0a" stroke-width="0.86"/>
<line x1="241.6" y1="153.5" x2="256.7" y2="153.5" stroke="#0a0a0a" stroke-width="0.78"/>
<line x1="242.0" y1="154.5" x2="247.1" y2="154.5" stroke="#0a0a0a" stroke-width="0.96"/>
<line x1="242.8" y1="155.5" x2="252.2" y2="155.5" stroke="#0a0a0a" stroke-width="0.99"/>
<line x1="243.5" y1="156.5" x2="251.8" y2="156.5" stroke="#0a0a0a" stroke-width="0.97"/>
<line x1="243.9" y1="157.5" x2="258.2" y2="157.5" stroke="#0a0a0a" stroke-width="0.85"/>
<line x1="244.4" y1="158.5" x2="256.3" y2="158.5" stroke="#0a0a0a" stroke-width="0.88"/>
<line x1="242.7" y1="160.5" x2="253.9" y2="160.5" stroke="#0a0a0a" stroke-width="0.79"/>
<line x1="240.8" y1="161.5" x2="244.0" y2="161.5" stroke="#0a0a0a" stroke-width="0.79"/>
<line x1="235.1" y1="163.5" x2="252.1" y2="163.5" stroke="#0a0a0a" stroke-width="0.81"/>
<line x1="234.0" y1="164.5" x2="240.3" y2="164.5" stroke="#0a0a0a" stroke-width="0.89"/>
<line x1="232.3" y1="166.5" x2="241.8" y2="166.5" stroke="#0a0a0a" stroke-width="0.98"/>
<line x1="232.2" y1="168.5" x2="237.3" y2="168.5" stroke="#0a0a0a" stroke-width="0.91"/>
<line x1="236.8" y1="169.5" x2="252.2" y2="169.5" stroke="#0a0a0a" stroke-width="0.84"/>
<line x1="241.5" y1="170.5" x2="253.6" y2="170.5" stroke="#0a0a0a" stroke-width="0.84"/>
<line x1="242.8" y1="171.5" x2="255.0" y2="171.5" stroke="#0a0a0a" stroke-width="0.98"/>
<line x1="242.6" y1="172.5" x2="251.1" y2="172.5" stroke="#0a0a0a" stroke-width="0.99"/>
<line x1="242.3" y1="173.5" x2="254.8" y2="173.5" stroke="#0a0a0a" stroke-width="0.92"/>
<line x1="241.3" y1="174.5" x2="249.4" y2="174.5" stroke="#0a0a0a" stroke-width="0.94"/>
<line x1="238.8" y1="176.5" x2="249.1" y2="176.5" stroke="#0a0a0a" stroke-width="0.76"/>
<line x1="237.1" y1="177.5" x2="242.3" y2="177.5" stroke="#0a0a0a" stroke-width="0.99"/>
<line x1="237.5" y1="179.5" x2="246.6" y2="179.5" stroke="#0a0a0a" stroke-width="0.89"/>
<line x1="238.5" y1="180.5" x2="245.2" y2="180.5" stroke="#0a0a0a" stroke-width="0.94"/>
<line x1="237.9" y1="181.5" x2="243.6" y2="181.5" stroke="#0a0a0a" stroke-width="0.94"/>
<line x1="237.3" y1="182.5" x2="245.1" y2="182.5" stroke="#0a0a0a" stroke-width="0.86"/>
<line x1="238.3" y1="184.5" x2="247.7" y2="184.5" stroke="#0a0a0a" stroke-width="0.92"/>
<line x1="239.2" y1="185.5" x2="249.4" y2="185.5" stroke="#0a0a0a" stroke-width="0.93"/>
<line x1="238.5" y1="186.5" x2="245.0" y2="186.5" stroke="#0a0a0a" stroke-width="0.79"/>
<line x1="235.5" y1="187.5" x2="250.6" y2="187.5" stroke="#0a0a0a" stroke-width="0.95"/>
<line x1="246.2" y1="188.5" x2="250.8" y2="188.5" stroke="#0a0a0a" stroke-width="0.88"/>
<line x1="248.8" y1="190.5" x2="258.8" y2="190.5" stroke="#0a0a0a" stroke-width="0.79"/>
<line x1="250.9" y1="191.5" x2="254.4" y2="191.5" stroke="#0a0a0a" stroke-width="0.82"/>
<line x1="253.4" y1="192.5" x2="264.0" y2="192.5" stroke="#0a0a0a" stroke-width="0.99"/>
<line x1="255.7" y1="193.5" x2="261.2" y2="193.5" stroke="#0a0a0a" stroke-width="0.99"/>
<line x1="257.2" y1="194.5" x2="262.2" y2="194.5" stroke="#0a0a0a" stroke-width="0.86"/>
<line x1="258.6" y1="195.5" x2="262.8" y2="195.5" stroke="#0a0a0a" stroke-width="0.85"/>
<line x1="259.2" y1="196.5" x2="266.8" y2="196.5" stroke="#0a0a0a" stroke-width="0.82"/>
<line x1="259.5" y1="197.5" x2="266.6" y2="197.5" stroke="#0a0a0a" stroke-width="0.86"/>
<line x1="257.8" y1="199.5" x2="265.1" y2="199.5" stroke="#0a0a0a" stroke-width="0.83"/>
<line x1="256.4" y1="200.5" x2="264.4" y2="200.5" stroke="#0a0a0a" stroke-width="0.87"/>
<line x1="256.6" y1="201.5" x2="264.8" y2="201.5" stroke="#0a0a0a" stroke-width="0.94"/>
<line x1="257.1" y1="202.5" x2="263.7" y2="202.5" stroke="#0a0a0a" stroke-width="0.98"/>
<line x1="258.1" y1="203.5" x2="264.2" y2="203.5" stroke="#0a0a0a" stroke-width="0.91"/>
<line x1="259.7" y1="204.5" x2="269.6" y2="204.5" stroke="#0a0a0a" stroke-width="0.76"/>
<line x1="260.3" y1="206.5" x2="266.5" y2="206.5" stroke="#0a0a0a" stroke-width="0.98"/>
<line x1="259.3" y1="207.5" x2="264.3" y2="207.5" stroke="#0a0a0a" stroke-width="0.77"/>
<line x1="258.7" y1="208.5" x2="267.2" y2="208.5" stroke="#0a0a0a" stroke-width="0.92"/>
<line x1="258.5" y1="209.5" x2="266.8" y2="209.5" stroke="#0a0a0a" stroke-width="0.78"/>
<line x1="258.3" y1="210.5" x2="265.2" y2="210.5" stroke="#0a0a0a" stroke-width="0.99"/>
<line x1="256.6" y1="211.5" x2="264.8" y2="211.5" stroke="#0a0a0a" stroke-width="0.94"/>
<line x1="254.9" y1="212.5" x2="265.9" y2="212.5" stroke="#0a0a0a" stroke-width="0.94"/>
<line x1="253.4" y1="213.5" x2="260.8" y2="213.5" stroke="#0a0a0a" stroke-width="0.95"/>
<line x1="252.1" y1="214.5" x2="257.8" y2="214.5" stroke="#0a0a0a" stroke-width="0.97"/>
<line x1="251.2" y1="215.5" x2="260.5" y2="215.5" stroke="#0a0a0a" stroke-width="0.92"/>
<line x1="253.2" y1="217.5" x2="258.5" y2="217.5" stroke="#0a0a0a" stroke-width="0.77"/>
<line x1="252.8" y1="218.5" x2="259.0" y2="218.5" stroke="#0a0a0a" stroke-width="0.96"/>
<line x1="251.9" y1="219.5" x2="258.7" y2="219.5" stroke="#0a0a0a" stroke-width="0.85"/>
<line x1="251.4" y1="220.5" x2="256.2" y2="220.5" stroke="#0a0a0a" stroke-width="0.96"/>
<line x1="251.9" y1="221.5" x2="259.8" y2="221.5" stroke="#0a0a0a" stroke-width="0.79"/>
<line x1="252.4" y1="222.5" x2="259.3" y2="222.5" stroke="#0a0a0a" stroke-width="0.88"/>
<line x1="247.3" y1="225.5" x2="257.9" y2="225.5" stroke="#0a0a0a" stroke-width="0.91"/>
<line x1="244.9" y1="227.5" x2="256.0" y2="227.5" stroke="#0a0a0a" stroke-width="0.93"/>
<line x1="247.8" y1="228.5" x2="252.0" y2="228.5" stroke="#0a0a0a" stroke-width="0.77"/>
<line x1="242.9" y1="229.5" x2="256.8" y2="229.5" stroke="#0a0a0a" stroke-width="0.82"/>
<line x1="246.6" y1="230.5" x2="251.2" y2="230.5" stroke="#0a0a0a" stroke-width="0.77"/>
<line x1="248.0" y1="231.5" x2="254.9" y2="231.5" stroke="#0a0a0a" stroke-width="0.95"/>
<line x1="247.6" y1="232.5" x2="253.2" y2="232.5" stroke="#0a0a0a" stroke-width="0.77"/>
<line x1="247.4" y1="234.5" x2="248.8" y2="234.5" stroke="#0a0a0a" stroke-width="0.91"/>
<line x1="247.5" y1="235.5" x2="249.9" y2="235.5" stroke="#0a0a0a" stroke-width="0.76"/>
<line x1="247.8" y1="236.5" x2="250.2" y2="236.5" stroke="#0a0a0a" stroke-width="0.95"/>
<line x1="225.00" y1="37.50" x2="278.00" y2="37.50" stroke="#0a0a0a" stroke-width="0.7"/>
<line x1="231.00" y1="38.70" x2="276.50" y2="38.70" stroke="#0a0a0a" stroke-width="0.7"/>
<path d="M236.9 38.6 L265.4 39.7 L260.7 40.9 L259.8 42.2 L254.4 43.4 L252.3 44.6 L256.1 45.7 L262.0 46.7 L266.2 47.8 L255.9 49.0 L246.6 50.3 L255.5 51.5 L265.4 52.7 L267.2 53.8 L267.8 54.9 L270.3 56.0 L269.5 57.0 L266.1 58.0 L266.4 59.1 L263.7 60.1 L271.2 61.3 L276.8 62.5 L272.5 63.6 L266.7 64.7 L263.7 65.8 L269.4 67.4 L263.5 68.4 L254.6 69.5 L249.3 70.5 L242.6 71.5 L236.9 73.2 L252.3 74.8 L247.5 76.0 L241.8 77.3 L238.5 78.5 L240.9 79.7 L243.2 81.0 L244.8 82.2 L246.6 83.4 L244.3 84.6 L242.6 85.8 L240.8 87.1 L238.5 88.3 L239.1 89.3 L242.5 90.3 L244.3 91.4 L244.2 92.4 L242.5 93.4 L240.3 94.4 L235.7 95.4 L233.6 96.4 L238.5 97.6 L239.3 98.8 L244.0 100.1 L247.5 101.3 L244.2 102.4 L243.0 103.5 L240.9 104.6 L244.3 105.8 L246.6 107.0 L245.4 108.0 L242.8 109.0 L240.7 110.1 L239.3 111.1 L237.3 112.1 L236.9 113.1 L236.1 114.1 L239.5 115.2 L243.3 116.2 L248.3 117.3 L241.8 119.0 L247.8 120.2 L252.3 121.4 L248.5 122.5 L244.5 123.6 L240.9 124.7 L249.1 126.3 L244.1 127.3 L241.6 128.3 L236.0 129.4 L232.8 130.4 L238.6 131.5 L246.0 132.5 L252.3 133.6 L249.7 134.6 L247.2 135.6 L243.3 136.7 L239.3 137.7 L245.3 138.8 L249.8 139.8 L253.2 140.9 L256.7 142.2 L258.9 143.4 L250.2 144.6 L240.1 145.8 L239.8 146.8 L241.3 147.9 L241.7 148.9 L244.2 149.9 L245.0 150.4 L243.4 151.4 L240.4 152.4 L237.4 153.5 L234.4 154.5 L237.8 155.8 L242.6 157.0 L240.7 158.1 L238.6 159.3 L238.6 160.4 L238.2 161.6 L235.2 162.7 L238.5 164.3 L234.2 165.5 L229.8 166.8 L226.5 168.0 L223.8 169.2 L236.9 170.8 L234.0 171.9 L233.2 173.0 L229.5 174.1 L232.9 175.2 L234.3 176.2 L236.9 177.3 L233.8 178.4 L231.9 179.5 L231.2 180.6 L232.2 181.8 L236.1 183.1 L237.2 184.3 L239.3 185.5 L237.5 186.5 L232.8 187.5 L237.7 188.6 L241.0 189.6 L243.8 190.6 L247.5 191.7 L245.0 192.5 L249.8 193.7 L251.6 194.9 L255.5 196.2 L260.5 197.4 L258.6 198.6 L256.4 199.9 L253.5 201.1 L252.3 202.3 L254.0 203.4 L255.8 204.4 L259.7 205.5 L254.0 207.2 L256.9 208.3 L257.9 209.3 L258.9 210.4 L258.2 211.6 L256.2 212.9 L252.6 214.1 L250.7 215.3 L252.5 216.4 L252.6 217.5 L254.0 218.6 L252.5 219.8 L249.1 221.0 L250.9 222.1 L249.6 223.2 L251.5 224.3 L247.8 225.4 L246.2 226.4 L245.1 227.4 L242.6 228.5 L249.1 230.1 L246.3 231.2 L242.8 232.3 L241.8 233.4 L246.0 234.9 L248.3 236.3" fill="none" stroke="#1f9ad8" stroke-width="1.4" stroke-linejoin="miter" />
<path d="M292.1 36.8 L297.2 37.1 L291.8 37.5 L297.6 37.7 L292.5 38.0 L298.4 38.3 L292.0 38.6 L298.4 38.9 L292.7 39.2 L298.2 39.4 L292.8 39.7 L299.0 40.0 L292.2 40.3 L298.3 40.6 L292.8 40.9 L299.2 41.3 L293.2 41.5 L299.0 41.8 L293.6 42.1 L298.6 42.4 L293.8 42.7 L299.1 42.9 L293.7 43.3 L299.6 43.6 L292.8 43.8 L299.6 44.2 L292.5 44.4 L299.6 44.7 L293.1 44.9 L298.9 45.3 L292.3 45.7 L297.9 45.9 L291.9 46.2 L298.5 46.6 L292.5 46.9 L298.0 47.1 L292.3 47.3 L298.3 47.7 L292.3 47.9 L298.6 48.2 L292.6 48.5 L299.2 48.8 L292.4 49.1 L299.0 49.4 L292.9 49.7 L299.3 50.0 L294.6 50.4 L300.0 50.7 L294.5 51.0 L300.4 51.3 L294.9 51.7 L300.3 51.9 L295.3 52.3 L300.2 52.6 L294.5 52.9 L300.2 53.3 L295.3 53.6 L300.0 53.9 L294.1 54.1 L300.7 54.5 L294.4 54.8 L300.6 55.1 L295.0 55.4 L300.8 55.7 L294.8 56.1 L299.7 56.5 L294.7 56.8 L300.7 57.1 L294.8 57.3 L300.4 57.6 L294.6 57.9 L301.3 58.1 L296.0 58.4 L303.3 58.7 L298.4 59.1 L304.1 59.5 L296.1 59.8 L301.6 60.1 L294.7 60.3 L300.6 60.7 L293.8 60.9 L300.4 61.3 L294.5 61.6 L301.3 61.9 L295.4 62.1 L301.7 62.4 L295.8 62.8 L302.9 63.1 L297.8 63.4 L304.2 63.7 L298.7 64.0 L303.5 64.2 L297.8 64.5 L302.4 64.7 L296.6 65.1 L301.3 65.3 L294.8 65.6 L300.8 66.0 L294.5 66.2 L301.4 66.5 L295.2 66.7 L302.3 67.1 L296.8 67.4 L303.3 67.7 L296.9 68.0 L303.2 68.2 L297.8 68.5 L304.6 68.7 L299.4 69.1 L305.7 69.4 L299.0 69.6 L305.6 69.9 L299.9 70.2 L305.8 70.5 L300.4 70.9 L306.3 71.3 L300.8 71.6 L307.8 72.0 L302.3 72.3 L309.0 72.5 L304.2 72.9 L312.0 73.2 L306.6 73.6 L312.2 73.8 L305.8 74.2 L311.4 74.5 L304.3 74.8 L310.9 75.0 L304.6 75.2 L309.7 75.5 L303.4 75.7 L308.3 76.0 L302.9 76.3 L311.3 76.5 L306.4 76.8 L314.3 77.1 L309.8 77.4 L317.7 77.7 L311.5 78.0 L316.3 78.4 L310.8 78.7 L315.3 78.9 L308.9 79.2 L315.2 79.5 L308.0 79.8 L313.6 80.1 L307.5 80.3 L312.6 80.5 L306.6 80.8 L312.1 81.2 L305.3 81.4 L311.1 81.8 L305.0 82.1 L309.2 82.5 L303.1 82.9 L308.1 83.1 L301.6 83.5 L307.2 83.7 L300.8 84.1 L306.1 84.4 L300.3 84.7 L306.7 85.0 L300.0 85.2 L306.3 85.6 L299.7 85.9 L306.3 86.2 L300.2 86.4 L306.2 86.8 L300.1 87.0 L306.2 87.3 L300.4 87.6 L306.2 87.9 L299.7 88.3 L306.1 88.7 L301.1 88.9 L307.0 89.3 L301.4 89.6 L308.0 89.8 L303.2 90.1 L310.0 90.4 L304.2 90.7 L310.5 90.9 L303.8 91.1 L310.3 91.4 L304.3 91.7 L309.2 92.1 L303.0 92.4 L309.3 92.8 L303.8 93.1 L309.0 93.3 L303.3 93.6 L308.9 93.8 L303.4 94.1 L309.0 94.3 L302.7 94.5 L309.0 94.8 L302.3 95.1 L309.2 95.3 L302.0 95.5 L308.5 95.8 L301.7 96.2 L307.8 96.5 L301.9 96.8 L308.3 97.1 L302.0 97.4 L307.0 97.8 L300.9 98.2 L307.4 98.4 L300.1 98.6 L306.2 98.9 L300.7 99.3 L306.1 99.5 L300.2 99.9 L305.6 100.2 L299.1 100.5 L305.3 100.8 L299.4 101.1 L304.3 101.5 L299.0 101.7 L303.9 102.1 L298.1 102.4 L304.4 102.6 L299.0 103.0 L305.2 103.2 L299.0 103.5 L305.6 103.8 L299.3 104.0 L305.8 104.4 L299.3 104.7 L306.3 105.1 L300.0 105.3 L305.9 105.7 L301.0 106.0 L306.3 106.4 L300.7 106.7 L307.4 107.0 L300.8 107.3 L307.0 107.5 L300.9 107.7 L307.9 108.0 L302.7 108.3 L309.7 108.6 L304.6 108.9 L310.6 109.2 L305.2 109.5 L312.3 109.8 L308.0 110.1 L314.1 110.4 L307.2 110.8 L312.9 111.1 L306.2 111.4 L311.0 111.6 L304.8 112.0 L310.9 112.3 L303.7 112.7 L310.0 112.9 L303.3 113.2 L308.8 113.4 L303.5 113.7 L308.7 113.9 L303.1 114.1 L307.8 114.5 L302.8 114.8 L307.5 115.1 L301.7 115.4 L307.4 115.7 L301.7 116.0 L307.9 116.2 L302.4 116.4 L309.9 116.8 L304.5 117.0 L310.4 117.4 L303.7 117.7 L309.6 118.0 L302.7 118.3 L308.4 118.6 L301.6 118.9 L307.7 119.3 L301.1 119.5 L306.8 119.8 L300.3 120.1 L304.9 120.4 L299.3 120.7 L305.1 120.9 L299.5 121.2 L306.2 121.6 L300.8 121.8 L307.7 122.1 L302.0 122.3 L307.8 122.6 L302.8 122.9 L309.6 123.2 L303.2 123.5 L309.7 123.8 L303.9 124.0 L311.1 124.4 L305.7 124.7 L311.3 125.1 L306.1 125.4 L312.2 125.6 L305.8 125.8 L312.3 126.1 L307.7 126.5 L313.2 126.8 L307.8 127.0 L313.4 127.3 L306.9 127.6 L311.7 128.0 L305.6 128.2 L310.8 128.5 L304.1 128.8 L309.9 129.1 L303.7 129.5 L308.7 129.7 L302.6 130.1 L306.9 130.4 L301.4 130.7 L306.5 131.0 L301.3 131.4 L306.6 131.6 L300.2 131.9 L306.6 132.1 L300.0 132.5 L305.8 132.7 L300.9 132.9 L306.8 133.2 L301.8 133.5 L308.5 133.7 L303.9 134.0 L310.6 134.3 L306.2 134.6 L312.6 134.9 L307.3 135.1 L312.8 135.5 L307.1 135.7 L312.5 136.1 L305.9 136.4 L310.3 136.7 L304.2 137.0 L308.7 137.4 L303.2 137.6 L308.5 137.8 L301.2 138.1 L306.9 138.4 L300.0 138.8 L306.0 139.1 L300.4 139.4 L305.5 139.6 L300.1 139.9 L305.6 140.3 L299.7 140.5 L305.7 140.8 L298.7 141.2 L305.1 141.6 L298.3 141.8 L304.1 142.1 L297.6 142.4 L304.5 142.6 L298.0 142.9 L303.9 143.3 L298.5 143.5 L306.0 143.9 L301.1 144.2 L307.9 144.6 L303.4 144.9 L309.1 145.3 L303.0 145.6 L308.5 145.9 L302.7 146.3 L307.3 146.7 L301.6 147.0 L307.0 147.4 L301.3 147.6 L307.4 147.9 L302.4 148.2 L309.2 148.5 L303.0 148.8 L309.2 149.0 L303.7 149.3 L310.7 149.6 L304.9 149.9 L310.6 150.2 L304.3 150.5 L310.3 150.9 L303.4 151.1 L308.5 151.5 L302.2 151.9 L307.9 152.1 L300.9 152.5 L307.9 152.8 L301.4 153.1 L307.9 153.4 L301.1 153.7 L307.3 154.0 L301.7 154.3 L308.0 154.6 L301.6 154.8 L307.7 155.1 L300.9 155.4 L307.9 155.7 L301.3 156.0 L307.8 156.3 L301.1 156.6 L308.1 157.0 L301.3 157.3 L308.0 157.6 L301.2 157.9 L307.8 158.1 L301.5 158.4 L307.7 158.7 L302.0 158.9 L307.6 159.3 L301.1 159.7 L307.7 160.0 L302.2 160.4 L308.3 160.7 L301.2 160.9 L308.4 161.2 L302.5 161.6 L308.5 161.9 L301.5 162.2 L308.5 162.5 L302.3 162.8 L307.9 163.1 L302.2 163.3 L307.7 163.6 L301.9 163.8 L308.3 164.2 L301.6 164.4 L307.4 164.7 L302.3 165.1 L307.8 165.3 L301.9 165.6 L307.7 166.0 L301.8 166.2 L306.6 166.6 L301.0 167.0 L306.5 167.2 L301.1 167.6 L306.8 167.8 L301.4 168.1 L307.0 168.4 L300.2 168.7 L306.4 168.9 L300.1 169.2 L305.9 169.5 L299.8 169.7 L306.1 170.0 L300.0 170.2 L306.6 170.5 L300.4 170.8 L306.0 171.1 L300.6 171.4 L307.0 171.6 L302.9 172.0 L308.6 172.3 L303.2 172.5 L309.9 172.9 L305.0 173.1 L309.7 173.4 L304.1 173.8 L309.5 174.1 L302.6 174.4 L308.0 174.7 L301.9 175.0 L307.8 175.4 L300.6 175.6 L307.8 176.0 L302.6 176.3 L309.7 176.6 L303.8 176.9 L310.1 177.1 L306.1 177.5 L312.1 177.7 L307.1 178.0 L314.4 178.3 L308.7 178.5 L315.7 178.9 L308.0 179.2 L313.0 179.5 L305.0 179.9 L309.9 180.1 L303.3 180.4 L307.1 180.7 L300.6 181.0 L305.3 181.2 L297.9 181.4 L304.9 181.7 L298.4 181.9 L304.7 182.1 L299.6 182.5 L306.3 182.8 L300.5 183.1 L306.8 183.4 L300.1 183.7 L307.1 184.0 L300.0 184.3 L306.8 184.6 L301.0 185.0 L305.7 185.2 L299.6 185.4 L306.3 185.7 L299.7 186.0 L306.2 186.2 L300.6 186.6 L306.5 186.8 L299.7 187.1 L305.3 187.4 L300.0 187.8 L304.7 188.1 L298.5 188.3 L305.0 188.6 L298.6 188.8 L303.7 189.2 L298.5 189.4 L303.8 189.8 L297.7 190.1 L303.2 190.4 L297.6 190.8 L302.9 191.2 L296.2 191.4 L302.7 191.7 L296.7 191.9 L302.0 192.2 L296.2 192.4 L301.9 192.7 L295.7 193.0 L301.8 193.3 L295.5 193.7 L300.4 194.0 L294.2 194.3 L300.6 194.7 L294.3 195.0 L299.9 195.4 L293.8 195.7 L299.5 195.9 L293.8 196.2 L299.0 196.5 L292.7 196.9 L299.6 197.2 L293.5 197.5 L299.7 197.8 L293.0 198.1 L298.6 198.5 L292.6 198.8 L298.6 199.1 L292.9 199.5 L298.7 199.8 L293.2 200.1 L298.9 200.4 L292.5 200.7 L298.6 201.0 L293.4 201.3 L299.5 201.7 L292.9 202.0 L299.1 202.3 L293.2 202.6 L299.3 202.9 L292.2 203.2 L298.2 203.5 L292.0 203.9 L298.6 204.3 L292.1 204.6 L298.5 204.9 L293.3 205.2 L299.0 205.4 L293.6 205.6 L298.8 206.0 L293.6 206.3 L300.1 206.6 L294.6 206.9 L299.7 207.1 L293.9 207.5 L300.6 207.7 L294.3 208.0 L301.0 208.4 L294.9 208.7 L301.1 209.1 L295.9 209.5 L302.3 209.9 L296.2 210.2 L302.4 210.6 L297.1 210.8 L303.1 211.1 L296.7 211.5 L303.7 211.8 L298.0 212.2 L303.5 212.4 L296.9 212.7 L302.4 213.0 L296.7 213.3 L302.4 213.5 L296.7 213.8 L301.7 214.1 L295.8 214.5 L302.3 214.9 L295.6 215.1 L301.2 215.5 L294.9 215.8 L300.6 216.0 L294.5 216.3 L300.7 216.6 L294.6 217.0 L300.8 217.2 L294.1 217.6 L300.0 217.9 L293.7 218.2 L300.0 218.5 L294.0 218.7 L298.9 218.9 L293.2 219.3 L299.3 219.6 L294.1 219.9 L300.6 220.3 L294.4 220.6 L299.7 221.0 L294.3 221.2 L300.4 221.6 L294.1 221.9 L301.4 222.2 L295.4 222.5 L300.7 222.7 L295.6 223.0 L301.8 223.2 L295.9 223.4 L301.3 223.7 L295.6 224.1 L301.2 224.5 L296.4 224.8 L302.2 225.0 L295.4 225.3 L302.1 225.6 L296.6 226.0 L302.2 226.4 L295.6 226.7 L302.2 227.0 L296.7 227.3 L301.7 227.6 L295.8 227.8 L302.7 228.1 L296.3 228.3 L302.4 228.7 L296.4 228.9 L301.8 229.2 L296.1 229.4 L302.2 229.8 L296.2 230.1 L302.5 230.4 L296.3 230.7 L302.2 231.0 L297.0 231.3 L302.6 231.6 L296.7 232.0 L302.0 232.2 L296.3 232.5 L302.7 232.7 L296.3 233.0 L303.1 233.3 L296.1 233.5 L302.3 233.8 L296.8 234.2 L302.1 234.5 L296.1 234.7 L302.7 235.0 L296.7 235.3 L302.6 235.5 L296.0 235.8 L302.8 236.1 L296.1 236.4 L302.5 236.7" fill="none" stroke="#0a0a0a" stroke-width="0.7" stroke-linejoin="miter" />
<line x1="287.9" y1="37.5" x2="294.7" y2="37.5" stroke="#0a0a0a" stroke-width="0.98"/>
<line x1="294.7" y1="37.5" x2="310.1" y2="37.5" stroke="#0a0a0a" stroke-width="0.80"/>
<line x1="289.9" y1="38.5" x2="295.3" y2="38.5" stroke="#0a0a0a" stroke-width="0.92"/>
<line x1="295.3" y1="38.5" x2="307.3" y2="38.5" stroke="#0a0a0a" stroke-width="0.92"/>
<line x1="289.5" y1="39.5" x2="295.6" y2="39.5" stroke="#0a0a0a" stroke-width="0.85"/>
<line x1="295.6" y1="39.5" x2="300.0" y2="39.5" stroke="#0a0a0a" stroke-width="0.77"/>
<line x1="290.2" y1="40.5" x2="295.8" y2="40.5" stroke="#0a0a0a" stroke-width="1.00"/>
<line x1="295.8" y1="40.5" x2="301.2" y2="40.5" stroke="#0a0a0a" stroke-width="0.87"/>
<line x1="289.7" y1="41.5" x2="295.9" y2="41.5" stroke="#0a0a0a" stroke-width="0.92"/>
<line x1="295.9" y1="41.5" x2="299.9" y2="41.5" stroke="#0a0a0a" stroke-width="0.98"/>
<line x1="289.1" y1="42.5" x2="296.1" y2="42.5" stroke="#0a0a0a" stroke-width="0.87"/>
<line x1="296.1" y1="42.5" x2="299.2" y2="42.5" stroke="#0a0a0a" stroke-width="0.92"/>
<line x1="290.5" y1="43.5" x2="296.3" y2="43.5" stroke="#0a0a0a" stroke-width="0.89"/>
<line x1="296.3" y1="43.5" x2="301.7" y2="43.5" stroke="#0a0a0a" stroke-width="0.95"/>
<line x1="288.3" y1="44.5" x2="296.0" y2="44.5" stroke="#0a0a0a" stroke-width="0.83"/>
<line x1="296.0" y1="44.5" x2="301.7" y2="44.5" stroke="#0a0a0a" stroke-width="0.84"/>
<line x1="289.7" y1="45.5" x2="295.6" y2="45.5" stroke="#0a0a0a" stroke-width="0.84"/>
<line x1="295.6" y1="45.5" x2="301.5" y2="45.5" stroke="#0a0a0a" stroke-width="0.86"/>
<line x1="289.8" y1="46.5" x2="295.2" y2="46.5" stroke="#0a0a0a" stroke-width="0.77"/>
<line x1="289.7" y1="47.5" x2="294.8" y2="47.5" stroke="#0a0a0a" stroke-width="0.79"/>
<line x1="294.8" y1="47.5" x2="297.6" y2="47.5" stroke="#0a0a0a" stroke-width="0.85"/>
<line x1="287.6" y1="48.5" x2="295.4" y2="48.5" stroke="#0a0a0a" stroke-width="0.75"/>
<line x1="295.4" y1="48.5" x2="300.2" y2="48.5" stroke="#0a0a0a" stroke-width="1.00"/>
<line x1="289.0" y1="49.5" x2="296.3" y2="49.5" stroke="#0a0a0a" stroke-width="0.98"/>
<line x1="290.2" y1="50.5" x2="297.3" y2="50.5" stroke="#0a0a0a" stroke-width="0.99"/>
<line x1="290.6" y1="51.5" x2="297.9" y2="51.5" stroke="#0a0a0a" stroke-width="0.80"/>
<line x1="297.9" y1="51.5" x2="303.8" y2="51.5" stroke="#0a0a0a" stroke-width="0.84"/>
<line x1="288.6" y1="52.5" x2="297.7" y2="52.5" stroke="#0a0a0a" stroke-width="0.90"/>
<line x1="297.7" y1="52.5" x2="309.3" y2="52.5" stroke="#0a0a0a" stroke-width="0.88"/>
<line x1="287.3" y1="53.5" x2="297.6" y2="53.5" stroke="#0a0a0a" stroke-width="0.92"/>
<line x1="297.6" y1="53.5" x2="307.5" y2="53.5" stroke="#0a0a0a" stroke-width="0.94"/>
<line x1="289.2" y1="54.5" x2="297.5" y2="54.5" stroke="#0a0a0a" stroke-width="0.95"/>
<line x1="297.5" y1="54.5" x2="321.1" y2="54.5" stroke="#0a0a0a" stroke-width="0.88"/>
<line x1="289.0" y1="55.5" x2="297.4" y2="55.5" stroke="#0a0a0a" stroke-width="0.82"/>
<line x1="297.4" y1="55.5" x2="318.2" y2="55.5" stroke="#0a0a0a" stroke-width="0.87"/>
<line x1="288.4" y1="56.5" x2="297.2" y2="56.5" stroke="#0a0a0a" stroke-width="0.80"/>
<line x1="297.2" y1="56.5" x2="308.3" y2="56.5" stroke="#0a0a0a" stroke-width="0.84"/>
<line x1="286.6" y1="57.5" x2="297.1" y2="57.5" stroke="#0a0a0a" stroke-width="0.93"/>
<line x1="297.1" y1="57.5" x2="323.8" y2="57.5" stroke="#0a0a0a" stroke-width="0.91"/>
<line x1="289.9" y1="58.5" x2="299.4" y2="58.5" stroke="#0a0a0a" stroke-width="0.91"/>
<line x1="299.4" y1="58.5" x2="304.3" y2="58.5" stroke="#0a0a0a" stroke-width="0.84"/>
<line x1="290.2" y1="59.5" x2="300.3" y2="59.5" stroke="#0a0a0a" stroke-width="0.99"/>
<line x1="300.3" y1="59.5" x2="342.2" y2="59.5" stroke="#0a0a0a" stroke-width="0.95"/>
<line x1="287.9" y1="60.5" x2="297.5" y2="60.5" stroke="#0a0a0a" stroke-width="0.83"/>
<line x1="297.5" y1="60.5" x2="326.6" y2="60.5" stroke="#0a0a0a" stroke-width="0.87"/>
<line x1="288.4" y1="61.5" x2="297.2" y2="61.5" stroke="#0a0a0a" stroke-width="0.82"/>
<line x1="297.2" y1="61.5" x2="320.7" y2="61.5" stroke="#0a0a0a" stroke-width="0.96"/>
<line x1="298.8" y1="62.5" x2="309.9" y2="62.5" stroke="#0a0a0a" stroke-width="0.83"/>
<line x1="300.3" y1="63.5" x2="306.0" y2="63.5" stroke="#0a0a0a" stroke-width="0.82"/>
<line x1="300.2" y1="64.5" x2="308.7" y2="64.5" stroke="#0a0a0a" stroke-width="0.96"/>
<line x1="297.8" y1="65.5" x2="303.3" y2="65.5" stroke="#0a0a0a" stroke-width="0.94"/>
<line x1="292.8" y1="66.5" x2="298.2" y2="66.5" stroke="#0a0a0a" stroke-width="0.78"/>
<line x1="298.2" y1="66.5" x2="304.4" y2="66.5" stroke="#0a0a0a" stroke-width="0.90"/>
<line x1="291.3" y1="67.5" x2="299.7" y2="67.5" stroke="#0a0a0a" stroke-width="0.76"/>
<line x1="299.7" y1="67.5" x2="302.4" y2="67.5" stroke="#0a0a0a" stroke-width="0.84"/>
<line x1="291.8" y1="68.5" x2="301.2" y2="68.5" stroke="#0a0a0a" stroke-width="0.83"/>
<line x1="301.2" y1="68.5" x2="308.8" y2="68.5" stroke="#0a0a0a" stroke-width="0.76"/>
<line x1="289.5" y1="69.5" x2="302.4" y2="69.5" stroke="#0a0a0a" stroke-width="0.90"/>
<line x1="302.4" y1="69.5" x2="328.1" y2="69.5" stroke="#0a0a0a" stroke-width="0.98"/>
<line x1="290.8" y1="70.5" x2="303.2" y2="70.5" stroke="#0a0a0a" stroke-width="0.90"/>
<line x1="303.2" y1="70.5" x2="306.6" y2="70.5" stroke="#0a0a0a" stroke-width="0.83"/>
<line x1="290.1" y1="71.5" x2="304.0" y2="71.5" stroke="#0a0a0a" stroke-width="0.90"/>
<line x1="304.0" y1="71.5" x2="310.5" y2="71.5" stroke="#0a0a0a" stroke-width="0.83"/>
<line x1="294.9" y1="72.5" x2="306.2" y2="72.5" stroke="#0a0a0a" stroke-width="0.84"/>
<line x1="306.2" y1="72.5" x2="321.7" y2="72.5" stroke="#0a0a0a" stroke-width="0.81"/>
<line x1="295.5" y1="73.5" x2="309.7" y2="73.5" stroke="#0a0a0a" stroke-width="0.81"/>
<line x1="309.7" y1="73.5" x2="312.8" y2="73.5" stroke="#0a0a0a" stroke-width="0.95"/>
<line x1="298.2" y1="74.5" x2="308.3" y2="74.5" stroke="#0a0a0a" stroke-width="0.82"/>
<line x1="308.3" y1="74.5" x2="331.1" y2="74.5" stroke="#0a0a0a" stroke-width="0.76"/>
<line x1="298.3" y1="75.5" x2="306.4" y2="75.5" stroke="#0a0a0a" stroke-width="0.81"/>
<line x1="306.4" y1="75.5" x2="331.5" y2="75.5" stroke="#0a0a0a" stroke-width="0.89"/>
<line x1="298.1" y1="76.5" x2="307.7" y2="76.5" stroke="#0a0a0a" stroke-width="0.95"/>
<line x1="307.7" y1="76.5" x2="326.1" y2="76.5" stroke="#0a0a0a" stroke-width="0.86"/>
<line x1="313.8" y1="77.5" x2="321.2" y2="77.5" stroke="#0a0a0a" stroke-width="0.80"/>
<line x1="298.5" y1="78.5" x2="313.6" y2="78.5" stroke="#0a0a0a" stroke-width="0.77"/>
<line x1="313.6" y1="78.5" x2="320.2" y2="78.5" stroke="#0a0a0a" stroke-width="0.88"/>
<line x1="299.2" y1="79.5" x2="311.9" y2="79.5" stroke="#0a0a0a" stroke-width="0.93"/>
<line x1="297.8" y1="80.5" x2="310.2" y2="80.5" stroke="#0a0a0a" stroke-width="0.88"/>
<line x1="310.2" y1="80.5" x2="326.8" y2="80.5" stroke="#0a0a0a" stroke-width="0.80"/>
<line x1="308.4" y1="81.5" x2="322.3" y2="81.5" stroke="#0a0a0a" stroke-width="0.90"/>
<line x1="296.5" y1="82.5" x2="306.6" y2="82.5" stroke="#0a0a0a" stroke-width="0.82"/>
<line x1="299.4" y1="83.5" x2="304.8" y2="83.5" stroke="#0a0a0a" stroke-width="0.78"/>
<line x1="304.8" y1="83.5" x2="324.2" y2="83.5" stroke="#0a0a0a" stroke-width="0.83"/>
<line x1="300.7" y1="84.5" x2="303.5" y2="84.5" stroke="#0a0a0a" stroke-width="0.83"/>
<line x1="299.9" y1="85.5" x2="303.3" y2="85.5" stroke="#0a0a0a" stroke-width="0.85"/>
<line x1="303.3" y1="85.5" x2="338.0" y2="85.5" stroke="#0a0a0a" stroke-width="0.86"/>
<line x1="298.7" y1="86.5" x2="303.2" y2="86.5" stroke="#0a0a0a" stroke-width="0.81"/>
<line x1="303.2" y1="86.5" x2="345.6" y2="86.5" stroke="#0a0a0a" stroke-width="0.84"/>
<line x1="295.9" y1="87.5" x2="303.0" y2="87.5" stroke="#0a0a0a" stroke-width="0.76"/>
<line x1="294.2" y1="88.5" x2="303.1" y2="88.5" stroke="#0a0a0a" stroke-width="0.92"/>
<line x1="303.1" y1="88.5" x2="310.6" y2="88.5" stroke="#0a0a0a" stroke-width="0.79"/>
<line x1="292.6" y1="89.5" x2="304.9" y2="89.5" stroke="#0a0a0a" stroke-width="0.92"/>
<line x1="304.9" y1="89.5" x2="309.1" y2="89.5" stroke="#0a0a0a" stroke-width="0.90"/>
<line x1="294.5" y1="90.5" x2="306.6" y2="90.5" stroke="#0a0a0a" stroke-width="0.88"/>
<line x1="306.6" y1="90.5" x2="310.0" y2="90.5" stroke="#0a0a0a" stroke-width="0.87"/>
<line x1="295.9" y1="91.5" x2="306.7" y2="91.5" stroke="#0a0a0a" stroke-width="0.78"/>
<line x1="306.7" y1="91.5" x2="310.3" y2="91.5" stroke="#0a0a0a" stroke-width="0.90"/>
<line x1="296.7" y1="92.5" x2="306.4" y2="92.5" stroke="#0a0a0a" stroke-width="0.89"/>
<line x1="306.4" y1="92.5" x2="313.3" y2="92.5" stroke="#0a0a0a" stroke-width="0.89"/>
<line x1="298.5" y1="93.5" x2="306.1" y2="93.5" stroke="#0a0a0a" stroke-width="0.84"/>
<line x1="296.7" y1="94.5" x2="305.8" y2="94.5" stroke="#0a0a0a" stroke-width="0.91"/>
<line x1="305.8" y1="94.5" x2="308.7" y2="94.5" stroke="#0a0a0a" stroke-width="0.98"/>
<line x1="305.5" y1="95.5" x2="311.5" y2="95.5" stroke="#0a0a0a" stroke-width="0.96"/>
<line x1="294.3" y1="96.5" x2="305.1" y2="96.5" stroke="#0a0a0a" stroke-width="0.96"/>
<line x1="305.1" y1="96.5" x2="321.1" y2="96.5" stroke="#0a0a0a" stroke-width="0.86"/>
<line x1="294.8" y1="97.5" x2="304.4" y2="97.5" stroke="#0a0a0a" stroke-width="0.92"/>
<line x1="294.1" y1="98.5" x2="303.7" y2="98.5" stroke="#0a0a0a" stroke-width="0.97"/>
<line x1="303.7" y1="98.5" x2="313.9" y2="98.5" stroke="#0a0a0a" stroke-width="0.77"/>
<line x1="293.0" y1="99.5" x2="303.0" y2="99.5" stroke="#0a0a0a" stroke-width="0.91"/>
<line x1="303.0" y1="99.5" x2="310.6" y2="99.5" stroke="#0a0a0a" stroke-width="0.82"/>
<line x1="298.2" y1="102.5" x2="301.4" y2="102.5" stroke="#0a0a0a" stroke-width="0.95"/>
<line x1="298.5" y1="103.5" x2="302.0" y2="103.5" stroke="#0a0a0a" stroke-width="0.93"/>
<line x1="302.0" y1="103.5" x2="322.0" y2="103.5" stroke="#0a0a0a" stroke-width="0.89"/>
<line x1="296.6" y1="104.5" x2="302.5" y2="104.5" stroke="#0a0a0a" stroke-width="0.97"/>
<line x1="302.5" y1="104.5" x2="323.2" y2="104.5" stroke="#0a0a0a" stroke-width="0.95"/>
<line x1="297.0" y1="105.5" x2="303.1" y2="105.5" stroke="#0a0a0a" stroke-width="0.80"/>
<line x1="303.1" y1="105.5" x2="344.5" y2="105.5" stroke="#0a0a0a" stroke-width="0.96"/>
<line x1="295.8" y1="106.5" x2="303.7" y2="106.5" stroke="#0a0a0a" stroke-width="0.92"/>
<line x1="303.7" y1="106.5" x2="312.5" y2="106.5" stroke="#0a0a0a" stroke-width="0.99"/>
<line x1="295.2" y1="107.5" x2="304.2" y2="107.5" stroke="#0a0a0a" stroke-width="0.88"/>
<line x1="304.2" y1="107.5" x2="318.4" y2="107.5" stroke="#0a0a0a" stroke-width="0.94"/>
<line x1="306.2" y1="108.5" x2="312.3" y2="108.5" stroke="#0a0a0a" stroke-width="0.84"/>
<line x1="291.8" y1="109.5" x2="308.8" y2="109.5" stroke="#0a0a0a" stroke-width="0.91"/>
<line x1="308.8" y1="109.5" x2="314.2" y2="109.5" stroke="#0a0a0a" stroke-width="0.98"/>
<line x1="297.8" y1="110.5" x2="310.5" y2="110.5" stroke="#0a0a0a" stroke-width="0.88"/>
<line x1="310.5" y1="110.5" x2="341.8" y2="110.5" stroke="#0a0a0a" stroke-width="0.84"/>
<line x1="295.6" y1="111.5" x2="308.5" y2="111.5" stroke="#0a0a0a" stroke-width="0.77"/>
<line x1="308.5" y1="111.5" x2="325.7" y2="111.5" stroke="#0a0a0a" stroke-width="0.84"/>
<line x1="296.6" y1="112.5" x2="307.2" y2="112.5" stroke="#0a0a0a" stroke-width="0.80"/>
<line x1="307.2" y1="112.5" x2="336.2" y2="112.5" stroke="#0a0a0a" stroke-width="0.81"/>
<line x1="296.9" y1="113.5" x2="306.3" y2="113.5" stroke="#0a0a0a" stroke-width="0.89"/>
<line x1="306.3" y1="113.5" x2="315.5" y2="113.5" stroke="#0a0a0a" stroke-width="0.94"/>
<line x1="296.7" y1="114.5" x2="305.4" y2="114.5" stroke="#0a0a0a" stroke-width="0.97"/>
<line x1="305.4" y1="114.5" x2="339.7" y2="114.5" stroke="#0a0a0a" stroke-width="0.86"/>
<line x1="293.3" y1="115.5" x2="304.6" y2="115.5" stroke="#0a0a0a" stroke-width="0.99"/>
<line x1="304.6" y1="115.5" x2="319.5" y2="115.5" stroke="#0a0a0a" stroke-width="0.88"/>
<line x1="297.2" y1="116.5" x2="306.0" y2="116.5" stroke="#0a0a0a" stroke-width="0.81"/>
<line x1="306.0" y1="116.5" x2="312.8" y2="116.5" stroke="#0a0a0a" stroke-width="0.80"/>
<line x1="296.6" y1="117.5" x2="307.4" y2="117.5" stroke="#0a0a0a" stroke-width="0.80"/>
<line x1="307.4" y1="117.5" x2="321.4" y2="117.5" stroke="#0a0a0a" stroke-width="0.88"/>
<line x1="297.7" y1="118.5" x2="305.6" y2="118.5" stroke="#0a0a0a" stroke-width="0.75"/>
<line x1="305.6" y1="118.5" x2="309.1" y2="118.5" stroke="#0a0a0a" stroke-width="0.94"/>
<line x1="293.7" y1="119.5" x2="303.9" y2="119.5" stroke="#0a0a0a" stroke-width="0.88"/>
<line x1="303.9" y1="119.5" x2="310.7" y2="119.5" stroke="#0a0a0a" stroke-width="0.93"/>
<line x1="294.5" y1="120.5" x2="302.2" y2="120.5" stroke="#0a0a0a" stroke-width="0.89"/>
<line x1="302.2" y1="120.5" x2="309.9" y2="120.5" stroke="#0a0a0a" stroke-width="0.77"/>
<line x1="293.6" y1="121.5" x2="303.4" y2="121.5" stroke="#0a0a0a" stroke-width="0.92"/>
<line x1="303.4" y1="121.5" x2="314.4" y2="121.5" stroke="#0a0a0a" stroke-width="0.78"/>
<line x1="293.9" y1="122.5" x2="304.9" y2="122.5" stroke="#0a0a0a" stroke-width="0.97"/>
<line x1="304.9" y1="122.5" x2="308.6" y2="122.5" stroke="#0a0a0a" stroke-width="0.81"/>
<line x1="295.3" y1="123.5" x2="306.4" y2="123.5" stroke="#0a0a0a" stroke-width="0.87"/>
<line x1="306.4" y1="123.5" x2="312.1" y2="123.5" stroke="#0a0a0a" stroke-width="0.84"/>
<line x1="295.2" y1="124.5" x2="307.7" y2="124.5" stroke="#0a0a0a" stroke-width="0.93"/>
<line x1="307.7" y1="124.5" x2="310.2" y2="124.5" stroke="#0a0a0a" stroke-width="0.83"/>
<line x1="298.9" y1="125.5" x2="309.0" y2="125.5" stroke="#0a0a0a" stroke-width="0.92"/>
<line x1="299.2" y1="126.5" x2="310.2" y2="126.5" stroke="#0a0a0a" stroke-width="0.76"/>
<line x1="310.2" y1="126.5" x2="325.8" y2="126.5" stroke="#0a0a0a" stroke-width="0.85"/>
<line x1="300.3" y1="127.5" x2="310.1" y2="127.5" stroke="#0a0a0a" stroke-width="0.77"/>
<line x1="310.1" y1="127.5" x2="321.4" y2="127.5" stroke="#0a0a0a" stroke-width="0.86"/>
<line x1="297.0" y1="128.5" x2="308.1" y2="128.5" stroke="#0a0a0a" stroke-width="0.96"/>
<line x1="308.1" y1="128.5" x2="321.7" y2="128.5" stroke="#0a0a0a" stroke-width="0.97"/>
<line x1="297.3" y1="129.5" x2="306.2" y2="129.5" stroke="#0a0a0a" stroke-width="0.92"/>
<line x1="306.2" y1="129.5" x2="321.6" y2="129.5" stroke="#0a0a0a" stroke-width="0.81"/>
<line x1="296.1" y1="130.5" x2="304.3" y2="130.5" stroke="#0a0a0a" stroke-width="0.97"/>
<line x1="304.3" y1="130.5" x2="319.6" y2="130.5" stroke="#0a0a0a" stroke-width="0.99"/>
<line x1="296.9" y1="131.5" x2="303.7" y2="131.5" stroke="#0a0a0a" stroke-width="0.91"/>
<line x1="303.7" y1="131.5" x2="311.9" y2="131.5" stroke="#0a0a0a" stroke-width="0.78"/>
<line x1="295.2" y1="132.5" x2="303.0" y2="132.5" stroke="#0a0a0a" stroke-width="0.93"/>
<line x1="303.0" y1="132.5" x2="319.6" y2="132.5" stroke="#0a0a0a" stroke-width="0.91"/>
<line x1="292.6" y1="133.5" x2="305.2" y2="133.5" stroke="#0a0a0a" stroke-width="0.76"/>
<line x1="305.2" y1="133.5" x2="325.0" y2="133.5" stroke="#0a0a0a" stroke-width="0.83"/>
<line x1="292.6" y1="134.5" x2="308.5" y2="134.5" stroke="#0a0a0a" stroke-width="0.92"/>
<line x1="308.5" y1="134.5" x2="319.0" y2="134.5" stroke="#0a0a0a" stroke-width="0.89"/>
<line x1="296.9" y1="135.5" x2="310.2" y2="135.5" stroke="#0a0a0a" stroke-width="0.78"/>
<line x1="310.2" y1="135.5" x2="332.8" y2="135.5" stroke="#0a0a0a" stroke-width="0.76"/>
<line x1="293.2" y1="136.5" x2="308.0" y2="136.5" stroke="#0a0a0a" stroke-width="0.84"/>
<line x1="308.0" y1="136.5" x2="318.9" y2="136.5" stroke="#0a0a0a" stroke-width="0.85"/>
<line x1="294.3" y1="137.5" x2="305.8" y2="137.5" stroke="#0a0a0a" stroke-width="0.88"/>
<line x1="293.1" y1="138.5" x2="303.6" y2="138.5" stroke="#0a0a0a" stroke-width="0.86"/>
<line x1="294.6" y1="139.5" x2="302.9" y2="139.5" stroke="#0a0a0a" stroke-width="0.91"/>
<line x1="302.9" y1="139.5" x2="317.1" y2="139.5" stroke="#0a0a0a" stroke-width="0.82"/>
<line x1="292.3" y1="140.5" x2="302.3" y2="140.5" stroke="#0a0a0a" stroke-width="0.76"/>
<line x1="293.2" y1="141.5" x2="301.6" y2="141.5" stroke="#0a0a0a" stroke-width="0.86"/>
<line x1="301.6" y1="141.5" x2="306.1" y2="141.5" stroke="#0a0a0a" stroke-width="0.88"/>
<line x1="293.2" y1="142.5" x2="301.0" y2="142.5" stroke="#0a0a0a" stroke-width="0.98"/>
<line x1="301.0" y1="142.5" x2="308.0" y2="142.5" stroke="#0a0a0a" stroke-width="0.85"/>
<line x1="294.5" y1="143.5" x2="300.8" y2="143.5" stroke="#0a0a0a" stroke-width="0.86"/>
<line x1="300.8" y1="143.5" x2="307.5" y2="143.5" stroke="#0a0a0a" stroke-width="0.93"/>
<line x1="295.3" y1="144.5" x2="304.9" y2="144.5" stroke="#0a0a0a" stroke-width="0.98"/>
<line x1="304.9" y1="144.5" x2="309.0" y2="144.5" stroke="#0a0a0a" stroke-width="0.75"/>
<line x1="298.1" y1="145.5" x2="306.2" y2="145.5" stroke="#0a0a0a" stroke-width="0.78"/>
<line x1="306.2" y1="145.5" x2="310.0" y2="145.5" stroke="#0a0a0a" stroke-width="0.81"/>
<line x1="297.8" y1="146.5" x2="304.9" y2="146.5" stroke="#0a0a0a" stroke-width="0.77"/>
<line x1="304.9" y1="146.5" x2="310.9" y2="146.5" stroke="#0a0a0a" stroke-width="0.96"/>
<line x1="297.3" y1="147.5" x2="303.6" y2="147.5" stroke="#0a0a0a" stroke-width="0.81"/>
<line x1="303.6" y1="147.5" x2="307.8" y2="147.5" stroke="#0a0a0a" stroke-width="0.94"/>
<line x1="295.6" y1="148.5" x2="305.6" y2="148.5" stroke="#0a0a0a" stroke-width="0.99"/>
<line x1="305.6" y1="148.5" x2="329.0" y2="148.5" stroke="#0a0a0a" stroke-width="0.78"/>
<line x1="295.8" y1="149.5" x2="307.7" y2="149.5" stroke="#0a0a0a" stroke-width="0.92"/>
<line x1="307.7" y1="149.5" x2="316.5" y2="149.5" stroke="#0a0a0a" stroke-width="0.87"/>
<line x1="295.1" y1="150.5" x2="307.4" y2="150.5" stroke="#0a0a0a" stroke-width="0.86"/>
<line x1="307.4" y1="150.5" x2="314.8" y2="150.5" stroke="#0a0a0a" stroke-width="0.82"/>
<line x1="297.8" y1="151.5" x2="305.5" y2="151.5" stroke="#0a0a0a" stroke-width="0.77"/>
<line x1="305.5" y1="151.5" x2="311.2" y2="151.5" stroke="#0a0a0a" stroke-width="0.78"/>
<line x1="297.9" y1="152.5" x2="304.4" y2="152.5" stroke="#0a0a0a" stroke-width="0.88"/>
<line x1="304.4" y1="152.5" x2="313.6" y2="152.5" stroke="#0a0a0a" stroke-width="0.97"/>
<line x1="299.1" y1="153.5" x2="304.4" y2="153.5" stroke="#0a0a0a" stroke-width="1.00"/>
<line x1="304.4" y1="154.5" x2="332.6" y2="154.5" stroke="#0a0a0a" stroke-width="0.90"/>
<line x1="298.9" y1="155.5" x2="304.4" y2="155.5" stroke="#0a0a0a" stroke-width="1.00"/>
<line x1="304.4" y1="155.5" x2="335.0" y2="155.5" stroke="#0a0a0a" stroke-width="0.77"/>
<line x1="304.4" y1="156.5" x2="319.9" y2="156.5" stroke="#0a0a0a" stroke-width="0.90"/>
<line x1="299.7" y1="157.5" x2="304.4" y2="157.5" stroke="#0a0a0a" stroke-width="0.87"/>
<line x1="304.4" y1="157.5" x2="330.7" y2="157.5" stroke="#0a0a0a" stroke-width="0.78"/>
<line x1="299.8" y1="158.5" x2="304.4" y2="158.5" stroke="#0a0a0a" stroke-width="0.91"/>
<line x1="304.4" y1="158.5" x2="313.9" y2="158.5" stroke="#0a0a0a" stroke-width="0.99"/>
<line x1="298.9" y1="159.5" x2="304.5" y2="159.5" stroke="#0a0a0a" stroke-width="0.86"/>
<line x1="304.5" y1="159.5" x2="342.1" y2="159.5" stroke="#0a0a0a" stroke-width="0.91"/>
<line x1="298.7" y1="160.5" x2="304.7" y2="160.5" stroke="#0a0a0a" stroke-width="0.89"/>
<line x1="304.7" y1="160.5" x2="359.8" y2="160.5" stroke="#0a0a0a" stroke-width="0.99"/>
<line x1="298.7" y1="161.5" x2="304.8" y2="161.5" stroke="#0a0a0a" stroke-width="1.00"/>
<line x1="304.8" y1="161.5" x2="321.1" y2="161.5" stroke="#0a0a0a" stroke-width="0.94"/>
<line x1="299.4" y1="162.5" x2="305.0" y2="162.5" stroke="#0a0a0a" stroke-width="0.98"/>
<line x1="298.8" y1="163.5" x2="305.2" y2="163.5" stroke="#0a0a0a" stroke-width="0.95"/>
<line x1="305.2" y1="163.5" x2="328.8" y2="163.5" stroke="#0a0a0a" stroke-width="0.95"/>
<line x1="299.1" y1="164.5" x2="304.9" y2="164.5" stroke="#0a0a0a" stroke-width="0.96"/>
<line x1="304.9" y1="164.5" x2="317.6" y2="164.5" stroke="#0a0a0a" stroke-width="0.89"/>
<line x1="298.1" y1="165.5" x2="304.5" y2="165.5" stroke="#0a0a0a" stroke-width="0.83"/>
<line x1="304.5" y1="165.5" x2="353.1" y2="165.5" stroke="#0a0a0a" stroke-width="0.81"/>
<line x1="299.1" y1="166.5" x2="304.2" y2="166.5" stroke="#0a0a0a" stroke-width="0.83"/>
<line x1="304.2" y1="166.5" x2="325.0" y2="166.5" stroke="#0a0a0a" stroke-width="0.85"/>
<line x1="298.4" y1="167.5" x2="303.9" y2="167.5" stroke="#0a0a0a" stroke-width="0.86"/>
<line x1="303.9" y1="167.5" x2="362.6" y2="167.5" stroke="#0a0a0a" stroke-width="0.84"/>
<line x1="296.4" y1="168.5" x2="303.6" y2="168.5" stroke="#0a0a0a" stroke-width="0.99"/>
<line x1="303.6" y1="168.5" x2="307.4" y2="168.5" stroke="#0a0a0a" stroke-width="0.77"/>
<line x1="295.3" y1="169.5" x2="303.2" y2="169.5" stroke="#0a0a0a" stroke-width="0.90"/>
<line x1="303.2" y1="169.5" x2="312.8" y2="169.5" stroke="#0a0a0a" stroke-width="0.99"/>
<line x1="296.3" y1="170.5" x2="302.9" y2="170.5" stroke="#0a0a0a" stroke-width="1.00"/>
<line x1="302.9" y1="170.5" x2="319.6" y2="170.5" stroke="#0a0a0a" stroke-width="0.76"/>
<line x1="296.2" y1="171.5" x2="304.2" y2="171.5" stroke="#0a0a0a" stroke-width="0.95"/>
<line x1="304.2" y1="171.5" x2="313.6" y2="171.5" stroke="#0a0a0a" stroke-width="0.79"/>
<line x1="295.9" y1="172.5" x2="306.3" y2="172.5" stroke="#0a0a0a" stroke-width="0.82"/>
<line x1="306.3" y1="172.5" x2="312.9" y2="172.5" stroke="#0a0a0a" stroke-width="0.89"/>
<line x1="297.5" y1="173.5" x2="307.2" y2="173.5" stroke="#0a0a0a" stroke-width="0.91"/>
<line x1="296.6" y1="174.5" x2="305.6" y2="174.5" stroke="#0a0a0a" stroke-width="0.89"/>
<line x1="296.6" y1="175.5" x2="303.9" y2="175.5" stroke="#0a0a0a" stroke-width="0.78"/>
<line x1="303.9" y1="175.5" x2="333.3" y2="175.5" stroke="#0a0a0a" stroke-width="0.91"/>
<line x1="298.5" y1="176.5" x2="305.9" y2="176.5" stroke="#0a0a0a" stroke-width="0.98"/>
<line x1="305.9" y1="176.5" x2="322.9" y2="176.5" stroke="#0a0a0a" stroke-width="0.94"/>
<line x1="298.7" y1="177.5" x2="308.7" y2="177.5" stroke="#0a0a0a" stroke-width="0.78"/>
<line x1="308.7" y1="177.5" x2="318.0" y2="177.5" stroke="#0a0a0a" stroke-width="0.92"/>
<line x1="311.5" y1="178.5" x2="316.4" y2="178.5" stroke="#0a0a0a" stroke-width="0.87"/>
<line x1="300.1" y1="179.5" x2="309.9" y2="179.5" stroke="#0a0a0a" stroke-width="0.99"/>
<line x1="309.9" y1="179.5" x2="321.0" y2="179.5" stroke="#0a0a0a" stroke-width="0.91"/>
<line x1="293.4" y1="180.5" x2="305.3" y2="180.5" stroke="#0a0a0a" stroke-width="0.99"/>
<line x1="305.3" y1="180.5" x2="311.6" y2="180.5" stroke="#0a0a0a" stroke-width="0.75"/>
<line x1="294.4" y1="181.5" x2="301.3" y2="181.5" stroke="#0a0a0a" stroke-width="0.85"/>
<line x1="301.3" y1="181.5" x2="308.5" y2="181.5" stroke="#0a0a0a" stroke-width="0.94"/>
<line x1="292.5" y1="182.5" x2="302.3" y2="182.5" stroke="#0a0a0a" stroke-width="0.81"/>
<line x1="302.3" y1="182.5" x2="306.4" y2="182.5" stroke="#0a0a0a" stroke-width="0.91"/>
<line x1="293.9" y1="183.5" x2="303.3" y2="183.5" stroke="#0a0a0a" stroke-width="0.83"/>
<line x1="292.4" y1="184.5" x2="303.4" y2="184.5" stroke="#0a0a0a" stroke-width="0.83"/>
<line x1="303.4" y1="184.5" x2="306.2" y2="184.5" stroke="#0a0a0a" stroke-width="0.86"/>
<line x1="296.5" y1="185.5" x2="303.2" y2="185.5" stroke="#0a0a0a" stroke-width="0.92"/>
<line x1="303.2" y1="185.5" x2="311.6" y2="185.5" stroke="#0a0a0a" stroke-width="0.90"/>
<line x1="295.0" y1="186.5" x2="302.9" y2="186.5" stroke="#0a0a0a" stroke-width="0.85"/>
<line x1="302.9" y1="186.5" x2="306.4" y2="186.5" stroke="#0a0a0a" stroke-width="0.89"/>
<line x1="290.7" y1="187.5" x2="302.5" y2="187.5" stroke="#0a0a0a" stroke-width="0.87"/>
<line x1="302.5" y1="187.5" x2="311.1" y2="187.5" stroke="#0a0a0a" stroke-width="0.95"/>
<line x1="287.5" y1="188.5" x2="301.8" y2="188.5" stroke="#0a0a0a" stroke-width="0.78"/>
<line x1="301.0" y1="189.5" x2="303.6" y2="189.5" stroke="#0a0a0a" stroke-width="0.97"/>
<line x1="293.5" y1="190.5" x2="300.3" y2="190.5" stroke="#0a0a0a" stroke-width="0.82"/>
<line x1="300.3" y1="190.5" x2="304.3" y2="190.5" stroke="#0a0a0a" stroke-width="0.81"/>
<line x1="291.1" y1="191.5" x2="299.5" y2="191.5" stroke="#0a0a0a" stroke-width="0.84"/>
<line x1="299.5" y1="191.5" x2="303.5" y2="191.5" stroke="#0a0a0a" stroke-width="0.83"/>
<line x1="291.3" y1="192.5" x2="298.8" y2="192.5" stroke="#0a0a0a" stroke-width="0.98"/>
<line x1="289.6" y1="193.5" x2="298.0" y2="193.5" stroke="#0a0a0a" stroke-width="1.00"/>
<line x1="298.0" y1="193.5" x2="302.5" y2="193.5" stroke="#0a0a0a" stroke-width="0.93"/>
<line x1="297.3" y1="194.5" x2="301.6" y2="194.5" stroke="#0a0a0a" stroke-width="0.91"/>
<line x1="290.9" y1="195.5" x2="296.5" y2="195.5" stroke="#0a0a0a" stroke-width="0.93"/>
<line x1="296.5" y1="195.5" x2="300.4" y2="195.5" stroke="#0a0a0a" stroke-width="0.97"/>
<line x1="288.5" y1="196.5" x2="296.2" y2="196.5" stroke="#0a0a0a" stroke-width="0.95"/>
<line x1="296.2" y1="196.5" x2="302.3" y2="196.5" stroke="#0a0a0a" stroke-width="0.81"/>
<line x1="289.4" y1="197.5" x2="296.1" y2="197.5" stroke="#0a0a0a" stroke-width="0.81"/>
<line x1="296.1" y1="197.5" x2="301.8" y2="197.5" stroke="#0a0a0a" stroke-width="0.83"/>
<line x1="289.1" y1="198.5" x2="296.1" y2="198.5" stroke="#0a0a0a" stroke-width="0.99"/>
<line x1="287.7" y1="199.5" x2="296.0" y2="199.5" stroke="#0a0a0a" stroke-width="0.88"/>
<line x1="296.0" y1="199.5" x2="303.3" y2="199.5" stroke="#0a0a0a" stroke-width="0.79"/>
<line x1="289.2" y1="200.5" x2="295.9" y2="200.5" stroke="#0a0a0a" stroke-width="0.94"/>
<line x1="295.9" y1="200.5" x2="300.1" y2="200.5" stroke="#0a0a0a" stroke-width="0.87"/>
<line x1="295.8" y1="201.5" x2="303.5" y2="201.5" stroke="#0a0a0a" stroke-width="0.85"/>
<line x1="286.8" y1="202.5" x2="295.7" y2="202.5" stroke="#0a0a0a" stroke-width="0.98"/>
<line x1="295.7" y1="202.5" x2="299.3" y2="202.5" stroke="#0a0a0a" stroke-width="0.78"/>
<line x1="288.3" y1="203.5" x2="295.6" y2="203.5" stroke="#0a0a0a" stroke-width="0.93"/>
<line x1="295.6" y1="203.5" x2="303.2" y2="203.5" stroke="#0a0a0a" stroke-width="0.88"/>
<line x1="289.1" y1="204.5" x2="295.5" y2="204.5" stroke="#0a0a0a" stroke-width="0.96"/>
<line x1="295.5" y1="204.5" x2="304.1" y2="204.5" stroke="#0a0a0a" stroke-width="0.95"/>
<line x1="289.6" y1="205.5" x2="296.0" y2="205.5" stroke="#0a0a0a" stroke-width="0.75"/>
<line x1="296.0" y1="205.5" x2="299.2" y2="205.5" stroke="#0a0a0a" stroke-width="0.94"/>
<line x1="290.4" y1="206.5" x2="296.7" y2="206.5" stroke="#0a0a0a" stroke-width="0.91"/>
<line x1="291.6" y1="207.5" x2="297.4" y2="207.5" stroke="#0a0a0a" stroke-width="0.96"/>
<line x1="297.4" y1="207.5" x2="303.0" y2="207.5" stroke="#0a0a0a" stroke-width="0.92"/>
<line x1="291.5" y1="208.5" x2="298.0" y2="208.5" stroke="#0a0a0a" stroke-width="0.89"/>
<line x1="298.0" y1="208.5" x2="302.7" y2="208.5" stroke="#0a0a0a" stroke-width="0.78"/>
<line x1="291.6" y1="209.5" x2="298.7" y2="209.5" stroke="#0a0a0a" stroke-width="0.97"/>
<line x1="298.7" y1="209.5" x2="303.4" y2="209.5" stroke="#0a0a0a" stroke-width="0.78"/>
<line x1="291.4" y1="210.5" x2="299.3" y2="210.5" stroke="#0a0a0a" stroke-width="0.94"/>
<line x1="299.3" y1="210.5" x2="302.6" y2="210.5" stroke="#0a0a0a" stroke-width="0.94"/>
<line x1="290.6" y1="211.5" x2="300.0" y2="211.5" stroke="#0a0a0a" stroke-width="0.95"/>
<line x1="300.0" y1="211.5" x2="303.2" y2="211.5" stroke="#0a0a0a" stroke-width="0.97"/>
<line x1="292.5" y1="212.5" x2="300.1" y2="212.5" stroke="#0a0a0a" stroke-width="0.77"/>
<line x1="300.1" y1="212.5" x2="303.9" y2="212.5" stroke="#0a0a0a" stroke-width="0.77"/>
<line x1="292.9" y1="213.5" x2="299.5" y2="213.5" stroke="#0a0a0a" stroke-width="0.92"/>
<line x1="299.5" y1="213.5" x2="303.3" y2="213.5" stroke="#0a0a0a" stroke-width="0.76"/>
<line x1="292.7" y1="214.5" x2="298.9" y2="214.5" stroke="#0a0a0a" stroke-width="0.81"/>
<line x1="298.9" y1="214.5" x2="304.3" y2="214.5" stroke="#0a0a0a" stroke-width="0.88"/>
<line x1="291.8" y1="215.5" x2="298.3" y2="215.5" stroke="#0a0a0a" stroke-width="0.78"/>
<line x1="298.3" y1="215.5" x2="302.1" y2="215.5" stroke="#0a0a0a" stroke-width="0.93"/>
<line x1="290.3" y1="216.5" x2="297.6" y2="216.5" stroke="#0a0a0a" stroke-width="0.83"/>
<line x1="289.1" y1="217.5" x2="297.0" y2="217.5" stroke="#0a0a0a" stroke-width="0.87"/>
<line x1="296.4" y1="218.5" x2="301.7" y2="218.5" stroke="#0a0a0a" stroke-width="0.97"/>
<line x1="286.9" y1="219.5" x2="296.7" y2="219.5" stroke="#0a0a0a" stroke-width="0.81"/>
<line x1="296.7" y1="219.5" x2="302.8" y2="219.5" stroke="#0a0a0a" stroke-width="0.79"/>
<line x1="288.2" y1="220.5" x2="297.1" y2="220.5" stroke="#0a0a0a" stroke-width="1.00"/>
<line x1="297.1" y1="220.5" x2="303.4" y2="220.5" stroke="#0a0a0a" stroke-width="0.97"/>
<line x1="288.9" y1="221.5" x2="297.5" y2="221.5" stroke="#0a0a0a" stroke-width="0.78"/>
<line x1="297.5" y1="221.5" x2="304.0" y2="221.5" stroke="#0a0a0a" stroke-width="0.92"/>
<line x1="289.6" y1="222.5" x2="297.9" y2="222.5" stroke="#0a0a0a" stroke-width="0.88"/>
<line x1="297.9" y1="222.5" x2="302.9" y2="222.5" stroke="#0a0a0a" stroke-width="0.98"/>
<line x1="289.0" y1="224.5" x2="298.7" y2="224.5" stroke="#0a0a0a" stroke-width="0.99"/>
<line x1="288.6" y1="225.5" x2="298.9" y2="225.5" stroke="#0a0a0a" stroke-width="0.97"/>
<line x1="291.2" y1="226.5" x2="299.0" y2="226.5" stroke="#0a0a0a" stroke-width="0.96"/>
<line x1="299.0" y1="226.5" x2="305.7" y2="226.5" stroke="#0a0a0a" stroke-width="0.80"/>
<line x1="290.8" y1="227.5" x2="299.1" y2="227.5" stroke="#0a0a0a" stroke-width="0.87"/>
<line x1="299.1" y1="227.5" x2="305.8" y2="227.5" stroke="#0a0a0a" stroke-width="0.93"/>
<line x1="291.6" y1="228.5" x2="299.3" y2="228.5" stroke="#0a0a0a" stroke-width="0.99"/>
<line x1="299.3" y1="228.5" x2="303.9" y2="228.5" stroke="#0a0a0a" stroke-width="0.89"/>
<line x1="293.8" y1="230.5" x2="299.5" y2="230.5" stroke="#0a0a0a" stroke-width="0.84"/>
<line x1="299.5" y1="230.5" x2="304.0" y2="230.5" stroke="#0a0a0a" stroke-width="0.90"/>
<line x1="293.6" y1="231.5" x2="299.5" y2="231.5" stroke="#0a0a0a" stroke-width="1.00"/>
<line x1="299.5" y1="231.5" x2="303.4" y2="231.5" stroke="#0a0a0a" stroke-width="0.79"/>
<line x1="299.5" y1="232.5" x2="303.4" y2="232.5" stroke="#0a0a0a" stroke-width="0.86"/>
<line x1="293.4" y1="233.5" x2="299.5" y2="233.5" stroke="#0a0a0a" stroke-width="0.83"/>
<line x1="299.5" y1="233.5" x2="304.4" y2="233.5" stroke="#0a0a0a" stroke-width="0.89"/>
<line x1="293.1" y1="234.5" x2="299.5" y2="234.5" stroke="#0a0a0a" stroke-width="0.76"/>
<line x1="299.5" y1="234.5" x2="303.9" y2="234.5" stroke="#0a0a0a" stroke-width="0.97"/>
<line x1="293.7" y1="235.5" x2="299.5" y2="235.5" stroke="#0a0a0a" stroke-width="0.95"/>
<line x1="299.5" y1="235.5" x2="305.4" y2="235.5" stroke="#0a0a0a" stroke-width="0.76"/>
<line x1="294.3" y1="236.5" x2="299.5" y2="236.5" stroke="#0a0a0a" stroke-width="0.92"/>
<line x1="299.5" y1="236.5" x2="311.5" y2="236.5" stroke="#0a0a0a" stroke-width="0.95"/>
<line x1="292.00" y1="38.50" x2="341.00" y2="38.50" stroke="#0a0a0a" stroke-width="1.0"/>
<line x1="292.00" y1="59.50" x2="345.00" y2="59.50" stroke="#0a0a0a" stroke-width="1.0"/>
<line x1="300.00" y1="82.50" x2="358.00" y2="82.50" stroke="#0a0a0a" stroke-width="1.0"/>
<line x1="300.00" y1="86.50" x2="353.00" y2="86.50" stroke="#0a0a0a" stroke-width="1.0"/>
<line x1="300.00" y1="105.50" x2="359.50" y2="105.50" stroke="#0a0a0a" stroke-width="1.0"/>
<line x1="300.00" y1="114.50" x2="360.00" y2="114.50" stroke="#0a0a0a" stroke-width="1.0"/>
<line x1="300.00" y1="155.50" x2="362.00" y2="155.50" stroke="#0a0a0a" stroke-width="1.0"/>
<line x1="300.00" y1="160.50" x2="363.50" y2="160.50" stroke="#0a0a0a" stroke-width="1.0"/>
<line x1="300.00" y1="165.50" x2="370.00" y2="165.50" stroke="#0a0a0a" stroke-width="1.0"/>
<line x1="300.00" y1="167.50" x2="371.00" y2="167.50" stroke="#0a0a0a" stroke-width="1.0"/>
<line x1="294.00" y1="236.50" x2="315.00" y2="236.50" stroke="#0a0a0a" stroke-width="1.0"/>
<path d="M294.7 37.6 L296.2 37.4 L322.3 38.1 L296.2 38.9 L295.5 38.9 L295.3 39.9 L295.1 40.9 L296.1 41.8 L296.4 42.8 L296.3 43.8 L295.5 44.8 L294.8 45.8 L295.1 46.8 L294.7 47.8 L295.0 48.9 L297.2 50.0 L297.9 51.1 L298.0 52.0 L297.3 53.0 L297.5 53.9 L297.0 54.8 L296.8 55.7 L296.7 56.7 L297.1 57.6 L301.2 59.2 L297.8 59.4 L322.3 60.1 L297.8 60.9 L296.3 60.9 L298.4 62.0 L299.5 63.0 L301.2 64.1 L297.1 65.8 L299.1 66.9 L300.1 67.9 L302.0 69.0 L303.3 70.0 L303.8 71.0 L304.4 72.0 L310.1 73.6 L307.9 74.8 L305.2 76.1 L315.0 77.7 L312.9 78.8 L311.3 79.9 L309.3 81.0 L305.1 81.8 L326.4 82.6 L305.1 83.3 L303.6 84.2 L303.5 85.2 L304.3 86.2 L332.9 87.0 L304.3 87.8 L302.8 88.3 L305.6 89.5 L306.9 90.7 L306.9 91.7 L306.4 92.6 L306.3 93.6 L305.1 94.5 L305.2 95.5 L305.2 96.4 L304.1 97.4 L304.4 98.3 L302.4 99.2 L302.4 100.2 L302.5 101.1 L301.2 102.1 L302.2 103.1 L302.6 104.1 L302.7 105.2 L319.9 105.9 L302.7 106.7 L304.4 107.8 L307.3 109.0 L310.9 110.3 L307.7 111.9 L305.9 113.0 L333.7 113.8 L305.9 114.5 L304.4 115.7 L307.7 117.3 L305.4 118.4 L304.2 119.5 L302.0 120.6 L303.3 121.7 L305.6 122.7 L306.9 123.8 L308.0 124.9 L310.0 126.0 L310.9 127.1 L308.9 128.2 L307.1 129.3 L304.4 130.4 L304.4 131.6 L302.8 132.8 L306.7 134.0 L310.9 135.2 L309.2 136.3 L305.2 137.4 L303.6 138.5 L303.6 139.5 L301.6 140.5 L301.8 141.4 L300.9 142.4 L300.4 143.4 L306.9 145.0 L305.7 146.2 L303.6 147.5 L305.8 148.7 L308.5 149.9 L306.0 151.0 L304.4 152.1 L309.1 153.1 L313.0 154.1 L317.6 155.1 L321.5 156.1 L315.8 157.1 L309.4 158.1 L304.4 159.1 L345.1 160.7 L332.2 161.6 L318.0 162.6 L305.2 163.5 L318.4 164.6 L330.9 165.7 L344.6 166.8 L358.2 167.9 L340.0 168.9 L321.7 169.8 L302.8 170.8 L305.5 172.0 L307.7 173.2 L305.6 174.4 L303.6 175.7 L307.0 176.8 L309.9 177.8 L312.6 178.9 L306.4 180.2 L301.2 181.4 L302.5 182.6 L303.6 183.8 L303.5 184.9 L303.4 186.0 L302.8 187.1 L301.6 188.1 L301.1 189.0 L300.4 190.0 L299.3 191.0 L298.9 191.9 L298.8 192.9 L297.9 193.9 L296.5 194.8 L296.3 195.8 L296.6 196.8 L295.5 197.8 L296.4 198.8 L295.4 199.8 L295.2 200.7 L295.4 201.7 L295.7 202.7 L295.2 203.7 L295.5 204.7 L296.7 205.6 L297.4 206.5 L297.0 207.5 L298.3 208.4 L298.9 209.3 L299.3 210.2 L299.4 211.2 L300.4 212.1 L300.5 213.0 L300.0 214.0 L297.9 214.9 L297.8 215.8 L297.2 216.7 L296.4 217.7 L296.3 218.6 L296.6 219.6 L297.7 220.5 L296.7 221.4 L298.4 222.4 L298.0 223.4 L298.7 224.3 L298.1 225.3 L299.6 226.2 L298.7 227.2 L298.8 228.2 L298.8 229.1 L299.5 230.1 L299.3 231.1 L298.9 232.1 L299.0 233.1 L299.1 234.0 L299.6 235.0 L299.4 236.0 L299.5 237.0" fill="none" stroke="#e3122e" stroke-width="1.4" stroke-linejoin="miter" />
<path d="M132.2 36.8 L141.5 39.0 L131.5 44.5 L137.5 46.8 L136.5 48.2 L122.5 50.8 L125.0 52.4 L119.0 55.2 L133.0 57.0 L129.5 59.3 L137.0 61.0 L135.5 62.5 L141.5 64.2 L140.0 66.5 L144.2 69.9 L143.0 74.4 L132.8 75.3 L124.1 76.6 L116.1 79.5 L106.7 83.2 L96.6 85.8 L98.0 88.2 L106.7 90.7 L94.4 95.0 L113.9 95.8 L116.5 99.5 L88.6 101.5 L108.2 103.8 L84.0 106.3 L100.9 108.5 L88.6 110.6 L108.9 115.4 L104.5 117.2 L112.5 119.8 L97.0 121.6 L96.7 123.6 L84.6 126.1 L98.4 128.4 L82.3 133.0 L117.0 134.9 L90.3 137.4 L106.2 141.7 L96.0 143.9 L93.9 146.5 L100.4 148.7 L86.6 153.0 L96.8 157.3 L91.7 159.1 L93.2 161.2 L90.3 163.8 L104.7 166.3 L84.5 168.8 L98.2 169.6 L114.9 172.8 L96.0 175.7 L97.5 177.9 L76.5 181.5 L98.9 184.4 L84.5 187.0 L94.6 188.2 L80.5 190.8 L85.3 192.2 L86.0 195.1 L104.9 199.5 L101.2 203.1 L115.3 208.2 L104.7 212.3 L108.9 215.1 L129.0 218.1 L114.8 222.5 L116.2 224.1 L106.8 226.7 L111.1 230.3 L99.5 233.2 L107.5 235.7" fill="none" stroke="#111" stroke-width="1.0" stroke-linejoin="miter" />
<path d="M202.2 36.6 L207.3 39.1 L201.5 40.5 L205.8 42.7 L195.7 44.9 L200.8 47.0 L189.2 49.9 L196.4 52.1 L192.8 54.3 L196.4 57.2 L193.5 59.3 L197.9 61.5 L195.0 63.7 L204.0 66.8 L197.7 68.3 L200.0 70.9 L190.7 73.0 L192.1 74.5 L176.2 75.2 L163.2 76.2 L154.5 77.4 L153.0 78.8 L162.4 81.7 L152.5 83.9 L158.5 86.0 L149.4 89.3 L155.9 91.5 L155.5 95.0 L147.5 97.8 L145.8 105.6 L148.4 108.5 L142.9 112.1 L144.3 115.0 L154.5 116.4 L140.7 119.3 L145.8 120.8 L140.0 122.9 L144.3 124.4 L140.5 127.3 L148.9 133.7 L139.5 137.4 L146.0 142.9 L140.2 146.8 L148.1 151.1 L139.5 154.4 L145.3 156.5 L138.0 159.8 L145.3 164.1 L144.5 166.3 L136.6 167.7 L140.9 172.1 L136.6 175.7 L138.0 180.8 L136.0 184.8 L135.4 187.2 L139.9 189.1 L147.2 195.4 L161.7 198.1 L171.6 200.8 L173.4 203.6 L190.7 207.2 L194.3 209.9 L190.7 212.6 L193.4 217.1 L179.7 223.4 L188.3 224.5 L176.5 227.7 L186.6 231.9 L179.6 235.3" fill="none" stroke="#111" stroke-width="1.0" stroke-linejoin="miter" />
<path d="M373.5 36.4 L355.6 38.6 L380.0 40.8 L358.0 42.5 L367.8 44.1 L372.7 47.0 L364.5 50.3 L370.2 54.4 L355.6 56.8 L369.4 64.9 L363.7 68.2 L367.0 70.6 L365.4 73.3 L380.0 78.5 L375.1 79.8 L387.3 81.8 L370.2 83.7 L401.2 91.2 L378.4 94.8 L397.1 97.7 L375.9 101.0 L389.0 108.6 L386.5 111.0 L400.4 115.2 L367.0 119.4 L399.6 122.2 L380.0 125.5 L395.5 128.2 L400.4 131.2 L393.0 135.2 L422.4 139.0 L402.0 142.6 L372.7 146.2 L384.9 149.3 L373.5 152.9 L424.8 155.8 L427.2 159.4 L419.9 162.7 L421.5 165.1 L402.0 170.0 L382.5 174.9 L432.9 181.4 L368.6 184.2 L400.4 187.2 L375.9 192.8 L379.2 197.1 L370.2 202.0 L371.9 205.5 L360.5 210.1 L388.2 215.0 L371.1 219.4 L373.5 223.5 L370.2 226.8 L382.5 231.8 L380.8 236.3" fill="none" stroke="#111" stroke-width="1.0" stroke-linejoin="miter" />
<path d="M433.1 36.4 L441.3 40.5 L436.4 43.0 L442.1 46.2 L442.9 50.3 L440.5 55.2 L434.8 59.2 L442.9 63.3 L434.8 68.5 L457.6 70.2 L437.2 73.9 L438.8 74.5 L441.0 77.5 L457.0 78.7 L442.0 79.8 L458.0 80.2 L459.2 83.4 L449.4 85.0 L451.1 87.5 L442.9 91.2 L469.8 97.7 L451.9 101.3 L455.9 105.9 L485.3 109.1 L468.6 111.6 L495.8 115.7 L459.2 119.4 L491.8 121.7 L497.5 125.5 L451.9 131.2 L456.8 134.8 L481.2 139.0 L473.0 142.6 L455.1 144.5 L451.1 146.6 L436.4 149.8 L460.0 155.3 L478.7 156.5 L442.1 159.4 L444.5 164.3 L438.8 168.8 L460.0 174.9 L438.0 178.1 L452.7 181.4 L438.0 184.6 L440.5 187.9 L439.7 190.0 L445.4 192.5 L441.3 196.6 L444.5 199.8 L440.5 205.5 L460.0 210.1 L438.8 214.5 L443.7 219.4 L437.2 223.0 L453.5 227.3 L440.5 231.8 L438.0 235.8" fill="none" stroke="#111" stroke-width="1.0" stroke-linejoin="miter" />
<line x1="150.50" y1="60.00" x2="150.50" y2="74.50" stroke="#222" stroke-width="0.55"/>
<path d="M149.40 72.80 L150.50 76.00 L151.60 72.80 Z" fill="#222"/>
<line x1="213.60" y1="59.80" x2="213.60" y2="71.30" stroke="#222" stroke-width="0.55"/>
<path d="M212.50 69.60 L213.60 72.80 L214.70 69.60 Z" fill="#222"/>
<line x1="184.50" y1="175.60" x2="184.50" y2="194.40" stroke="#222" stroke-width="0.55"/>
<path d="M183.40 192.70 L184.50 195.90 L185.60 192.70 Z" fill="#222"/>
<text x="138.60" y="57.90" font-size="7.2" text-anchor="start" style="stroke:none;fill:#2b2b2b">40-50 a</text>
<text x="204.50" y="58.00" font-size="7.2" text-anchor="start" style="stroke:none;fill:#2b2b2b">~60 a</text>
<text x="182.00" y="87.80" font-size="7.2" text-anchor="start" style="stroke:none;fill:#2b2b2b">~100 a</text>
<text x="174.30" y="173.70" font-size="7.2" text-anchor="start" style="stroke:none;fill:#2b2b2b">~20 a</text>
<text x="197.50" y="206.60" font-size="7.2" text-anchor="start" style="stroke:none;fill:#2b2b2b">~125 a</text>
<text x="268.30" y="196.10" font-size="7.2" text-anchor="start" style="stroke:none;fill:#2b2b2b">~60 a</text>
<text x="329.70" y="187.60" font-size="7.2" text-anchor="start" style="stroke:none;fill:#2b2b2b">~70 a</text>
<text x="74" y="16.6" font-size="8.45" style="stroke:none">NGRIP δ<tspan font-size="6.2" dy="-3.3">18</tspan><tspan dy="3.3">(‰SMOW)</tspan></text>
<text x="222.40" y="16.30" font-size="7.2" text-anchor="start" style="stroke:none">μ-XRF Ca (cps)</text>
<text x="372.60" y="16.50" font-size="8.4" text-anchor="start" style="stroke:none">NAP (%)</text>
<text x="127.6" y="262.7" font-size="8.4" style="stroke:none">δ<tspan font-size="6.2" dy="-3.6">18</tspan><tspan dy="3.6">O ostracods (‰ PDB)</tspan></text>
<text x="306.00" y="261.90" font-size="7.4" text-anchor="start" style="stroke:none">μ-XRF Mg (cps)</text>
<text x="441.3" y="261.9" font-size="8.4" style="stroke:none"><tspan font-style="italic">Juniperus</tspan> (%)</text>
<text transform="translate(6.60 164.70) rotate(-90)" font-size="8.0" text-anchor="start" style="stroke-width:0.12px" word-spacing="0.95">Age (cal. a BP)</text>
<text transform="translate(550.60 163.60) rotate(-90)" font-size="8.0" text-anchor="start" style="stroke-width:0.12px" word-spacing="0.95">Age (cal. a BP)</text>
<text transform="translate(60.80 35.20) rotate(-90)" font-size="7.2" text-anchor="start" >Lithozones</text>
<text transform="translate(510.70 227.50) rotate(-90)" font-size="7.1" text-anchor="start" style="stroke-width:0.06px">Allerød</text>
<text transform="translate(510.70 185.50) rotate(-90)" font-size="7.1" text-anchor="start" style="stroke-width:0.06px">biostratigraphic</text>
<text transform="translate(510.70 134.60) rotate(-90)" font-size="7.1" text-anchor="start" style="stroke-width:0.06px">Younger</text>
<text transform="translate(510.70 106.50) rotate(-90)" font-size="7.1" text-anchor="start" style="stroke-width:0.06px">Dryas</text>
<text transform="translate(510.70 70.20) rotate(-90)" font-size="7.1" text-anchor="start" style="stroke-width:0.06px">Holocene</text>
<line x1="509.30" y1="79.40" x2="509.30" y2="85.40" stroke="#1a1a1a" stroke-width="0.9"/>
<path d="M507.95 80.70 L509.30 77.20 L510.65 80.70 Z" fill="#1a1a1a"/>
<line x1="509.20" y1="187.00" x2="509.20" y2="192.30" stroke="#1a1a1a" stroke-width="0.9"/>
<path d="M507.85 191.00 L509.20 194.50 L510.55 191.00 Z" fill="#1a1a1a"/>
<text x="55.60" y="55.50" font-size="6.8" text-anchor="start" >V</text>
<text x="55.40" y="132.00" font-size="6.8" text-anchor="start" >IV</text>
<text x="55.40" y="216.60" font-size="6.8" text-anchor="start" >III</text>
</svg>
</body></html>
